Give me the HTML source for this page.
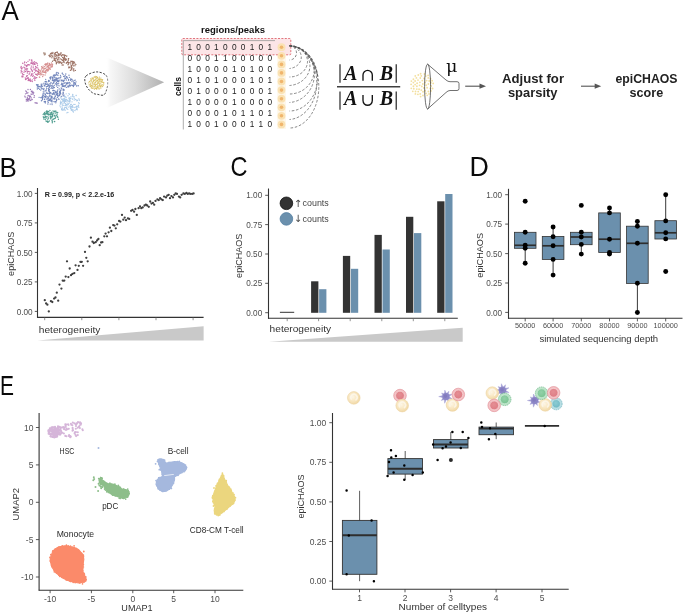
<!DOCTYPE html>
<html><head><meta charset="utf-8"><title>epiCHAOS figure</title>
<style>html,body{margin:0;padding:0;background:#fff}svg{display:block}text{white-space:pre}</style></head>
<body><svg width="685" height="615" viewBox="0 0 685 615">
<rect width="685" height="615" fill="#fff"/>
<text transform="translate(1.4,19.9) scale(0.945,1)" font-size="27.5" fill="#0a0a0a" font-family='"Liberation Sans", sans-serif'>A</text>
<text transform="translate(-0.4,177.4) scale(0.945,1)" font-size="27.5" fill="#0a0a0a" font-family='"Liberation Sans", sans-serif'>B</text>
<text transform="translate(230.5,176) scale(0.856,1)" font-size="27.5" fill="#0a0a0a" font-family='"Liberation Sans", sans-serif'>C</text>
<text transform="translate(469.5,176) scale(0.973,1)" font-size="27.5" fill="#0a0a0a" font-family='"Liberation Sans", sans-serif'>D</text>
<text transform="translate(0,394.5) scale(0.762,1)" font-size="27.5" fill="#0a0a0a" font-family='"Liberation Sans", sans-serif'>E</text>
<path d="M32.3 79.9h0M35.1 64.3h0M26.1 79.4h0M35.5 70h0M26.2 65.6h0M25.2 69.4h0M30 71.9h0M24.5 62.8h0M32 60.1h0M21.1 71h0M29.3 80.4h0M32.4 71h0M29.8 64.8h0M33.5 63.8h0M36.2 62.7h0M25.5 79.5h0M30.1 78.8h0M32.6 76.3h0M22.1 71.7h0M30 79.3h0M27.3 73h0M21.5 68.1h0M26.5 62.6h0M35.9 67.9h0M39 72.8h0M31.9 73.9h0M33.3 62.6h0M28.8 64.7h0M28 61.3h0M33.2 66.1h0M37 74.5h0M31.2 62.5h0M30.9 63.3h0M37.2 74h0M31.2 67.8h0M28.2 64.7h0M29.3 71.8h0M26.5 76.5h0M20.9 67.7h0M38.8 74.4h0M28.5 71.3h0M37 67.1h0M31.6 75h0M27.2 71.1h0M34.9 80.2h0M35.8 62.3h0M28.4 78h0M35.5 71h0M34.2 64.4h0M24.2 67.5h0M23.8 67.1h0M38.4 72.4h0M26.9 65.4h0M38.5 69.4h0M39 71.1h0M30.3 79.9h0M34.5 72.6h0M28.5 79.5h0M28.2 80.5h0M21.7 69.1h0M30.3 81.2h0M25.2 77.8h0M33.3 75.7h0M32.4 81.6h0M26.7 68.3h0M31.9 70.2h0M31.7 74.4h0M29.3 73.7h0M32.5 63.4h0M21.6 68.6h0M34.9 78h0M34.3 61.7h0M37.1 71.2h0M25.2 64.9h0M24 72.3h0M21.1 72.8h0M23.6 74.8h0M38.2 71.6h0M35.8 74.4h0M32 63.5h0M31.3 60h0M26.8 66.5h0M22.5 73.6h0M35.6 66.4h0M36.8 77.6h0M22.9 76.9h0M37.2 63.7h0M31.3 73.9h0M32 61.3h0M33 73.8h0M36.1 77.7h0M26.6 75.9h0M32.8 64.1h0M31.1 81h0M27.6 65h0M29.1 74.3h0M22.3 67.9h0M22.9 74.5h0M36.2 67.8h0M27.5 71.6h0M24.5 64.8h0M26.7 69.7h0M21.9 76.6h0M31.4 66.1h0M21.9 76.8h0M37.6 65.3h0M26.2 78.4h0M32.2 63.4h0M28.7 79.6h0M27.5 75.6h0M22.2 76h0M35.2 78.3h0M33.2 67.7h0M21.6 71.1h0M34.8 63.5h0M25.5 71.5h0M34.6 79.9h0M22.8 63.4h0M35.6 74.1h0M35.2 68.3h0M32.6 63.4h0M34.8 76.7h0M34.1 69.4h0M27.6 68.8h0M30.7 68.1h0M30.8 75.8h0M27.6 78.4h0M37.9 68.1h0M23 76.7h0M33.9 78.2h0M31.3 69.5h0M34.7 63.5h0M29.4 59.9h0M26.4 66.3h0M34.1 69.7h0M25.1 68.2h0M24.7 62h0M21 70.8h0M22.7 63.2h0M36.7 70.3h0M23.9 74.6h0M25.5 71.3h0M25.8 71.1h0M32.3 71.5h0M27.9 77.4h0M37 63.3h0M24.3 70.9h0M29.9 80.3h0M21.2 66.4h0M31.8 60.6h0" stroke="#c0579a" stroke-width="1.35" stroke-linecap="round" fill="none" opacity="0.85"/>
<path d="M40.8 73.1h0M52.4 66.2h0M51.6 67h0M50.3 69.2h0M49.2 68.8h0M39.9 70.2h0M46.9 63.9h0M52 64.6h0M45.1 75h0M39.8 74.6h0M48 70.7h0M43.5 74.8h0M49 67.9h0M51.5 63h0M44.9 72.2h0M49.1 64h0M45.8 65.4h0M47.4 70.8h0M39.7 77.2h0M44 69.5h0M48.5 66.8h0M46 63.7h0M46.3 69.2h0M45.1 71.2h0M43.2 66.1h0M44.7 66.5h0M42.7 76.5h0M40.1 73.6h0M50.1 67.7h0M47.7 71.1h0M45.2 71h0M51 66.5h0M46.6 67.1h0M45.3 68.2h0M48 65.5h0M46.1 71.9h0M44.1 68.5h0M49.3 64.4h0M52 66.9h0M45.5 71.9h0M37.2 75.4h0M51 65.3h0M46.9 70h0M48.2 67.8h0M41.8 68.6h0M40.6 71.1h0M42.4 71.4h0M43.5 72h0M41.7 69.8h0M50.8 64.4h0M45.2 64.2h0M49.5 63.4h0M43.1 67.7h0M45.8 73h0M49.9 65h0M48.8 65.7h0M43.3 71.8h0M39.3 72.6h0M49.8 68.7h0M49.5 64.9h0M39.4 77h0M42 74.2h0M44 72.3h0M41.2 72.9h0M46.2 70.3h0M40.6 71.3h0M38.6 70.1h0M45.5 72.6h0M46.3 64.7h0M38.3 73.5h0M49 65.9h0M52.4 64.9h0M48.5 69.9h0M47.9 65.2h0M40.9 72.6h0M42.6 67.4h0M45 71.5h0M38.7 72.7h0M38.1 71.8h0M41.6 66.7h0M42.3 68h0M43.3 74.9h0M40.9 74.9h0M43.1 70.4h0M47.8 63h0M44.8 64.3h0M48.1 68.1h0M47.4 64h0M38 73.8h0M47.7 69.3h0M48.2 67.7h0M52.6 64.2h0M42.6 72.1h0M47.5 66.5h0M52 66.6h0" stroke="#cf7b7b" stroke-width="1.35" stroke-linecap="round" fill="none" opacity="0.85"/>
<path d="M57.4 52.5h0M52.9 52.4h0M55.3 56.6h0M68.4 58.7h0M66.3 63.2h0M66.4 59.7h0M55.3 52.6h0M64.3 62.6h0M54.1 53.9h0M68.7 58.6h0M64.5 55.4h0M66.8 56h0M61.1 53.1h0M58.7 62.9h0M51.6 53.1h0M63.9 61.5h0M54.8 58.8h0M56.7 62.5h0M53.9 60.2h0M60.8 62.2h0M55.7 60.4h0M63.4 58.5h0M64.4 56.4h0M64.5 57.4h0M57 62.5h0M58.8 55.7h0M56.7 52.2h0M54.3 54h0M59.4 54.9h0M62.1 65h0M54.2 57.9h0M60.8 53.5h0M57.3 61.9h0M50 56.8h0M49 55.5h0M55.4 60.7h0M51.4 53h0M65.4 60.2h0M56.3 63.7h0M57.2 51.9h0M58.2 53.7h0M50.4 56.6h0M67.8 62.4h0M62.6 57.4h0M59.5 61.9h0M59.6 62.7h0M61.2 55.3h0M60.7 58.9h0M51.9 57.7h0M66.7 56.3h0M59 61.5h0M57.9 55.2h0M56.3 58.2h0M62.5 60.4h0M55.2 53h0M50.5 53.6h0M53 56.1h0M52.5 56.2h0M58.5 61.6h0M59.1 53.9h0M65.5 55.6h0M65.9 58.3h0M57.5 60.1h0M60.4 54.6h0M52.6 53.6h0M51.7 55.7h0M55.8 58.6h0M54.6 60.4h0M54.5 55.8h0M64.4 59.1h0M54.3 60.1h0M55.5 52.6h0M57.4 59.3h0M63.3 59.6h0M64.3 55.4h0M51.5 53.9h0M66.9 62.5h0M50.1 56.5h0M57.9 59h0M63.1 62.1h0M65.6 59.5h0M63.2 65h0M56.4 63.4h0M68.4 59.9h0M68.2 60.2h0M55.5 60.7h0M58.6 57.7h0M57 57h0M63.8 60.9h0M61.3 63.2h0M54.6 53.6h0M55.3 54.7h0M64.7 58.7h0M54.9 59h0M62 62.8h0M54.4 58.8h0M50.1 54.3h0M61.5 56.1h0M55.5 58.8h0M62.1 55h0M64.7 54.9h0M55.2 53.4h0M59 59.8h0M63.7 57.9h0M49.5 56.1h0M57.3 52.4h0M58.8 54.6h0M66.4 62.7h0M51.6 53.7h0M63.2 54.7h0M56.4 55.5h0M62.3 60.2h0M62.9 54.6h0M53.9 57.9h0M61.7 59.6h0M61.7 63.4h0M64.9 59.8h0M52.5 61.2h0M57.8 55.6h0M61 52.7h0M59 54.6h0M63.2 59.9h0M56.2 54.7h0M67.8 61.4h0M68.5 62.6h0M50.1 55.7h0M59.3 57.8h0M55.9 61.8h0M60.6 62h0M61.6 55.6h0" stroke="#8c5a4a" stroke-width="1.35" stroke-linecap="round" fill="none" opacity="0.85"/>
<path d="M72.7 62.2h0M73.9 71.1h0M70.9 61.2h0M72.4 67.9h0M68.7 67.8h0M71.4 66.4h0M71.3 68.2h0M75.9 64.6h0M73.4 69.9h0M71.8 69.8h0M71.5 68.9h0M71.4 67.6h0M74.9 65.6h0M70.8 64.8h0M68 64.7h0M71.7 61.4h0M75.4 70.4h0M73.5 61.7h0M73.3 65.9h0M70 67.1h0M69.2 62.7h0M70.5 70.2h0M68.2 63.8h0M72.7 64.9h0M70.6 63.1h0M72.8 63.3h0M71.4 65.9h0M74.5 62.2h0M73.3 63.4h0M75 63.8h0M73.8 70h0M72.1 61.2h0M68.5 64h0M68.9 66.9h0M72.3 63.8h0M70.4 70.4h0M74.9 65.8h0M69.6 67.5h0M73 64.9h0M74.8 63.8h0M70.9 61.9h0M73.8 68.6h0M73.2 62.8h0M71.4 65.3h0M73.3 61.8h0" stroke="#8c5a4a" stroke-width="1.35" stroke-linecap="round" fill="none" opacity="0.85"/>
<path d="M45.4 53.9h0M45.1 54.5h0M44.9 52.9h0M44.3 54.7h0M44.4 53.8h0M44.7 54.7h0M43.6 53h0" stroke="#a08070" stroke-width="1.35" stroke-linecap="round" fill="none" opacity="0.85"/>
<path d="M44 83.2h0M49.4 89.6h0M48.1 97.4h0M67.9 86.7h0M48.6 90.1h0M66.1 77.9h0M60.4 92.4h0M43.9 83.9h0M57.3 97.3h0M39 86.6h0M37.6 85.8h0M48.7 85.2h0M65.1 86.8h0M41.4 100.7h0M61.9 88.9h0M73.4 81.8h0M55.2 75.3h0M53.2 93.5h0M41.2 87h0M38.3 88.4h0M46.2 90h0M47.7 101.1h0M52 103.1h0M66.8 76.7h0M59.2 88.8h0M51 83.1h0M56.9 72.4h0M63.1 92.9h0M58.2 72.9h0M53.4 90.5h0M68.1 83.6h0M69.5 77.3h0M65.7 85.3h0M52.8 83.5h0M53.7 82.6h0M50.3 92.5h0M59.1 85.8h0M49.4 95.1h0M65.6 78.5h0M50 93.8h0M60.4 91.3h0M67.8 86.6h0M68.5 80.3h0M49.4 87.3h0M62.9 94.6h0M49.9 92.2h0M45.7 84.6h0M75 84.5h0M42.1 84.1h0M48.5 81.6h0M51.1 98.4h0M53.6 80.5h0M64.5 78.1h0M64.8 85.6h0M63.1 93.4h0M52.3 96.8h0M55.2 79.7h0M64.3 76.6h0M71.9 81.6h0M49.5 81h0M52.3 85.1h0M43.9 88.4h0M58.5 98.9h0M56.7 77.9h0M53.1 79.1h0M50 85.6h0M76.1 81.8h0M63.5 86.4h0M45.5 97.1h0M56.1 94.6h0M37.3 89h0M48 84.2h0M54.3 97.3h0M56.2 93h0M48.6 80.4h0M48.5 98h0M50.3 84.1h0M50 77.9h0M50.9 98.5h0M51.9 93.8h0M55.4 95.9h0M54 81.9h0M54.6 79.7h0M74.1 80.5h0M56.7 99.5h0M56.2 83.7h0M52.8 86.5h0M63.1 80.6h0M72.4 80.1h0M49.3 96.6h0M63.2 90.2h0M51 82.4h0M54.6 80.8h0M50.8 92.7h0M55.2 96.7h0M66.1 76.9h0M69 75.2h0M46.4 86.7h0M50 93.5h0M45.4 94.5h0M59.8 80.8h0M57.8 80.9h0M69.2 85.6h0M48.7 89.2h0M44.6 85.3h0M57.8 95.4h0M45.6 81.8h0M37.1 85.4h0M66 76.8h0M61.2 88h0M54.3 87.4h0M52.5 77.1h0M45.1 97.2h0M57.3 81.4h0M57.4 93.4h0M54.2 85.4h0M44.7 93.8h0M76.7 86h0M51.8 100.9h0M71.6 79.6h0M56.5 74.7h0M51.2 100.1h0M61.8 83.2h0M45.9 91h0M50 77.4h0M60 94.8h0M45.2 81.5h0M74.3 82.7h0M47.7 83.9h0M46.8 99.1h0M58.4 78.1h0M46.1 81.5h0M67.9 82.3h0M50.5 99.5h0M75.6 84.6h0M60.9 90.2h0M41 97.7h0M46.1 97h0M53.1 83.4h0M69.1 86h0M51.6 97.2h0M53.8 90.3h0M57.5 95.5h0M56.8 80.4h0M63.2 92.2h0M68.7 86.9h0M55.9 98.8h0M56.6 100.5h0M46.3 81.6h0M46.1 96.3h0M56 101.7h0M69.7 82.6h0M42.8 96.9h0M46.7 99.1h0M56.5 84.3h0M56.6 79.3h0M37.3 87.1h0M54.1 98.5h0M57.6 97.2h0M48.5 90.9h0M52.6 78.3h0M57.9 93.9h0M73.9 85.4h0M59 99.2h0M41.1 87.7h0M56.9 78.4h0M58.7 83.1h0M49.2 100.4h0M63.5 81.4h0M54 76.2h0M43 97.4h0M43 95.1h0M55.2 75.6h0M67.6 83.5h0M57.4 91.2h0M50.7 96.1h0M47.7 93.5h0M65.1 75.4h0M48.7 88.5h0M56.4 73h0M60.1 90.1h0M49 88h0M69.1 86h0M62.5 84.1h0M56.3 83.8h0M49.1 90.8h0M51 88.3h0M67.8 82.9h0M58.5 96.1h0M45.8 90.5h0M75.3 83.2h0M57.8 83.4h0M75.5 83.2h0M42.4 99.7h0M56.5 84.1h0M42.4 98.2h0M44.1 91.8h0M56 91.3h0M68 86h0M57.8 79h0M55.2 83.8h0M53.3 90.8h0M64.2 80.6h0M75.3 80.1h0M57.9 75.4h0M38.3 84.8h0M65.8 74h0M61.9 80h0M49.5 99.2h0M39.1 97.3h0M49.9 100.4h0M47.9 85.6h0M68.6 79.4h0M45.4 102.9h0M55.4 77.9h0M62.6 85.3h0M58.8 77.8h0M58.4 81.4h0M62.2 73.2h0M49.8 95.3h0M46.9 84.2h0M42 97h0M54.6 75.9h0M66.5 84h0M48.2 99.8h0M67.6 78h0M62.8 83.8h0M46.2 93.1h0M43.4 89.3h0M53.6 80.7h0M72.7 85.5h0M51.2 101.5h0M60 78.9h0M46.8 88.5h0M42.6 86.3h0M52.8 90.5h0M63.7 76.4h0M44.5 99.5h0M71.8 85.1h0M70.1 83.6h0M42.5 95.9h0M69.3 82.5h0M61.2 84.7h0M66.3 80h0M62.3 86.2h0M44.8 86h0M52.4 80.6h0M60.7 93.7h0M52 100.2h0M54 93.5h0M46 95.6h0M62.3 86.6h0M58.7 80.6h0M71.7 79.2h0M57.8 89.9h0M54.3 77.6h0M61.3 80.8h0M52.9 77.6h0M62.4 80.8h0M43.2 91.8h0M54.8 90.8h0M54.5 98.6h0M56.3 74.9h0M51.4 86h0M65.1 82.7h0M37.6 85h0M52.6 88.3h0M78.3 85.7h0M57.7 87.4h0M55.8 91.9h0M50.2 104.1h0M49.8 86.5h0M57 94.2h0M60.9 76.9h0M55.1 75.5h0M70.5 80.3h0M49.2 91.2h0M47.8 96.6h0M64.1 95.1h0M63.4 89.2h0M44.7 96.4h0M47.4 86.4h0M55.2 81h0M54.6 101.8h0M59.5 94.3h0M55.3 92.1h0M51.8 87.7h0M70.9 85.3h0M44.3 85.4h0M63.9 83.1h0M63.4 93.1h0M55.1 101.4h0M64.2 90h0M57 95h0M73.6 84h0M60.5 75.3h0M48.8 100.6h0M63.2 85.1h0M57.9 85h0M45.7 79.3h0M54.4 94.6h0M50 100.6h0M69.6 84.9h0M40.7 90.1h0M41.9 88.9h0M60.1 92.7h0M39.9 86.5h0M62.3 73.2h0M38.8 86.3h0M49.7 83.9h0M60.2 77.4h0M57.1 80.5h0M48.2 102.4h0M43 94.5h0M44.4 101.6h0M38.4 86.7h0M37.4 84.7h0M65.7 85.2h0M65 86.3h0M41.7 85.7h0M54.5 99.1h0M59.5 91.7h0M50.4 79h0M42.5 99.2h0M63.7 89.8h0M57.5 81.1h0M63.1 74.5h0M45.7 83.9h0M58.5 73.2h0M39.6 89.2h0M43.2 93.4h0M45.1 102h0M49.1 90.4h0M61.3 96.5h0M59.3 93.1h0M44.8 98.9h0M75.1 83.9h0M60.8 90.6h0M45.7 83.5h0M63.1 95.9h0M76.8 85.7h0M53.7 87.9h0M53.4 75.7h0M51.4 96.2h0M52.1 97.5h0M46.8 92.6h0M52.9 78.6h0M70.5 80.1h0M56.5 85.9h0M52.1 104.6h0M45.4 97.2h0M56.3 78.9h0M52.8 94.5h0M66.6 87.3h0M46.8 82h0M57.8 74.9h0M45 102.1h0M59.4 95.5h0M36.5 84.6h0M63.8 86.2h0M53.1 101.6h0M52 93.9h0M51.2 97.5h0M45.5 101.5h0M74.2 82.7h0M43.8 95.8h0M41.2 85.7h0M51 76.7h0M51 85.8h0M64.2 80h0M70.3 86h0M53.5 92.7h0M44 90h0M41.2 84.2h0M55 92.7h0M42.2 88.5h0M47.9 104h0M56.1 74.2h0M53.3 86.6h0M55.7 79.7h0M53 98.8h0M44.2 101.7h0M56.5 82.4h0M55.8 102.8h0M47.2 93.2h0M52.4 80h0M47.9 98.5h0M48.8 86h0M52.2 78h0M54.1 74.6h0M50.7 77.7h0M66.6 82.9h0M40.8 97.6h0M64 83.2h0M70.6 78.9h0M61.6 84.2h0M42.7 98.8h0M49 93.2h0M73.4 86.5h0M57.2 92.3h0" stroke="#5b72b0" stroke-width="1.35" stroke-linecap="round" fill="none" opacity="0.85"/>
<path d="M27.5 100.2h0M27.6 100.9h0M32.2 99.5h0M34.3 95.7h0M27.7 98.7h0M34.1 97.4h0M28.6 99.4h0M33.2 94.1h0M29.2 95.9h0M29.3 95.8h0M32.9 91.6h0M32.8 92.8h0M29.4 98.3h0M30.8 100.6h0M25.8 90.9h0M32.3 92.6h0M30.6 96.2h0M31.7 99.6h0M31.9 94.2h0M26.3 101h0M28.1 95.5h0M31.1 98.1h0M31.1 97.3h0M29.1 99.1h0M27.9 92.7h0M31.4 91.5h0M33.8 92.8h0M30.4 89.5h0M27.9 98.3h0M27.5 99.6h0M31 94.1h0M25.5 93.8h0M28.8 100.8h0M29.6 97.1h0M27.4 99.9h0M29.6 96.9h0M26.3 99.2h0M25.9 91.1h0M30.1 100h0M26.8 93.2h0M25.2 97h0M31.9 90.9h0M29.4 96.2h0M24.8 96.1h0M26.5 91.8h0M27.3 97.2h0M28 89.5h0M33 92.4h0M28.1 100.9h0M28 98.8h0M37 102.9h0M36.5 103h0M35.1 102.7h0M35.5 102.9h0M37.1 103.2h0" stroke="#8a5fa8" stroke-width="1.35" stroke-linecap="round" fill="none" opacity="0.85"/>
<path d="M65.4 105.5h0M62.5 104.8h0M69 97.9h0M61.1 103.8h0M59.9 105.8h0M68.2 104.5h0M63.9 100.3h0M72.5 96h0M66.5 104.5h0M67.8 109.3h0M60.3 104.1h0M65.7 99.4h0M74.2 96.8h0M67.9 103.2h0M72.7 94.5h0M62 99.5h0M72.9 96.6h0M76.1 109.4h0M77.4 100.5h0M73.4 112h0M77.1 109.3h0M75 104.4h0M69.4 94.2h0M60.7 97.8h0M68 95.7h0M62.3 105.9h0M64.5 98.7h0M63.7 109.8h0M64.1 101.4h0M71.4 104.3h0M71.7 110.3h0M65.6 100.6h0M77.9 106.2h0M63.8 105.4h0M79.3 100.2h0M70.1 98.6h0M72.5 105.4h0M78.4 105.2h0M65.2 100h0M78.8 98.8h0M62 98.8h0M78.6 105.9h0M69.7 100.1h0M73.9 107.2h0M79.1 103.5h0M66.1 97.4h0M76.5 106.7h0M64 109.3h0M69.3 97.6h0M65.2 103.5h0M61.2 103.8h0M60.5 102.4h0M69 98.5h0M76.7 108.2h0M66.2 93.8h0M67.1 105h0M70.1 98.9h0M69.8 105.8h0M66.6 99.5h0M66.8 101.8h0M66.9 106.8h0M68.9 101.2h0M76.6 106.2h0M70.7 98.5h0M74.3 98.3h0M71.2 110h0M77.2 109.7h0M72.4 107.6h0M62.5 108h0M60.5 103.2h0M64.6 100.7h0M71.8 109.5h0M70.8 104.3h0M76.2 95.5h0M76 95.3h0M73.8 104.3h0M64.7 96.9h0M62.8 99.7h0M65.8 104.1h0M64.5 102h0M71.2 106.3h0M72.7 111.1h0M71.5 109.9h0M68.9 93.6h0M65.4 101.4h0M71.3 107.9h0M67.8 100.8h0M70.9 96.9h0M72.6 99.2h0M66 97.6h0M67.9 112.4h0M70.2 100.7h0M78.8 107.3h0M62 110h0M62.8 101h0M70.6 104.8h0M70.6 107.3h0M66 107.6h0M66.1 100.6h0M71.7 106.3h0M73.8 96.9h0M78.7 102.6h0M66.9 108.7h0M77.3 108.1h0M64.9 107.4h0M64 96.3h0M65 107.4h0M70.5 108.6h0M72.9 109.9h0M74.2 100.1h0M64.1 99.3h0M64.4 102.5h0M63.8 98.7h0M65.2 96.3h0M76.8 100h0M60.6 104.1h0M61.7 99.4h0M66 97.5h0M65.4 110.1h0M70.1 106.7h0M69.1 103.3h0M65.4 103.6h0M67.6 100.3h0M72.9 95h0M63 103.1h0M78.3 106.1h0M69.4 99.8h0M75.6 107.1h0M66.7 108.5h0M72.3 98.8h0M64.3 108.5h0M63 103.6h0M75.1 110.6h0M74.8 110.3h0M62.9 110.1h0M61.6 108.7h0M64.4 109.7h0M68.7 107.1h0M60.9 97.9h0M61.6 102.2h0M60.5 101.1h0M69.8 101.3h0M75.4 99.5h0M72.5 106.2h0M76.8 100.7h0M60.8 107h0M62.2 109.6h0M62.2 108.1h0M66.9 112.8h0M63.9 109.9h0M71 96.8h0M69.5 98.9h0M62.8 101.2h0M69.8 102h0M74.2 107.5h0M72 101.8h0M66.4 105.1h0M79.1 99.1h0M73.1 110h0M61.6 109.4h0" stroke="#a6c8e8" stroke-width="1.35" stroke-linecap="round" fill="none" opacity="0.95"/>
<path d="M45.2 117h0M57.2 112.9h0M52 114.2h0M48.5 114.9h0M47.2 114.3h0M45.6 114h0M46.1 121.1h0M53 110.9h0M46.7 110.9h0M53.7 119h0M57.6 116.2h0M48 113.8h0M46.3 118h0M49.2 114.2h0M44.2 117.5h0M54.8 121.6h0M47.3 121.8h0M55.2 118.2h0M46.1 113.2h0M51.6 112.4h0M55.5 117.2h0M58.4 119.2h0M44.6 114.5h0M52.4 121.7h0M49 112h0M47.5 112.8h0M45.4 114.1h0M47 116.3h0M45.5 117.1h0M54 111.5h0M51.6 112.2h0M48.9 113.8h0M56.3 112.6h0M51.8 117.3h0M48.3 122h0M48.3 113.9h0M54.3 116h0M54.8 111.5h0M45.3 119.4h0M49.3 121h0M46.7 112.7h0M57.1 114.3h0M44.7 112.5h0M55.5 113.1h0M52 120.7h0M52.9 119.6h0M57.3 116.9h0M46.2 111.3h0M48.3 111.3h0M55.6 117h0M52.7 115.4h0M45.2 115.8h0M57.9 117.3h0M50.4 117.6h0M51.9 117.9h0M46.2 111.5h0M52.5 116.2h0M57.7 112.4h0M51.1 113.4h0M50.4 118.7h0M48.2 118.4h0M43.2 116.8h0M52.3 122.7h0M46.8 113.5h0M50.2 116.3h0M56.3 115.5h0M43.7 118.9h0M46.6 121.3h0M46.4 113.5h0M45.2 113.6h0M52.8 113.1h0M43.7 117.4h0M55 111h0M49.9 110.4h0M43.2 114.5h0M47.6 121.2h0M54.9 115.1h0M51.1 112.8h0M45.1 119.2h0M50.4 116.4h0M47.7 111.7h0M56 111.2h0M47.8 119.6h0M47.8 122.2h0M45.8 116.6h0M51.7 116.2h0M51.9 120.1h0M43.7 116.8h0M50.1 114.9h0M51.7 117.9h0M54.4 121.5h0M53.8 113.1h0M47.3 111.1h0M54.1 118.7h0M52.9 114.6h0M50.5 113h0M48.2 117.2h0M45.9 120.9h0M50.8 114.5h0M43.9 113.3h0" stroke="#2e8b7a" stroke-width="1.35" stroke-linecap="round" fill="none" opacity="0.85"/>
<path d="M92.8 84h0M92.2 85.6h0M94.1 86.5h0M97.5 80.5h0M90.4 80.8h0M95.4 86.8h0M98.6 83h0M97.9 85.7h0M98.1 88.7h0M90.7 78.9h0M94.7 80.6h0M99.2 81.8h0M95.7 77.7h0M103.7 82.4h0M102.1 84.6h0M90.1 86.2h0M95.3 82.5h0M96.3 84.3h0M101.2 81.5h0M99.1 86.7h0M90.4 84.1h0M95.6 88.3h0M101.4 79.7h0M99.5 83.9h0M100.9 88h0M100.1 80.9h0M102.6 79.6h0M94.1 77.2h0M98.1 79.1h0M95.6 85.3h0M97 86.6h0M100.7 85.1h0M95.2 79.3h0M99.4 77.1h0M93.3 78.3h0M94.2 83.1h0M93.6 79.9h0M93.5 81.2h0M88.8 82.8h0M91.9 81.3h0M92.1 79h0M96.6 76.7h0M97.5 84h0M92.7 82.7h0M91 82.9h0M100.9 78.1h0M96.8 78.6h0M102.6 86.6h0M102.2 82.4h0M96.1 81.4h0M96.5 89h0M99 80h0M97.6 77.5h0M94 84.9h0M100.1 79.5h0M100.7 83.1h0M92.7 88.3h0M97.3 82.8h0M89.2 84.8h0M94.4 89h0M92.4 86.8h0M103.7 83.9h0M99.5 88.8h0M100.6 86.5h0M102.4 80.9h0M89.4 81.6h0M97.9 87.4h0M96.2 80.1h0M95.2 76.5h0M91.2 86.8h0M99.2 78.6h0M96.7 87.8h0M99.4 85.2h0M95.1 84.2h0M98 81.6h0M93.9 87.8h0M92.2 77.8h0M103.2 85.3h0M91.6 80.1h0M91.1 85.2h0M101.6 85.8h0M91.4 88h0" stroke="#d6b94e" stroke-width="1.35" stroke-linecap="round" fill="none" opacity="0.9"/>
<path d="M86.1 75.9C88 74.1,93.1 72,96.4 71.9C99.7 71.8,104 73.3,105.9 75.1C107.8 76.9,107.7 80,107.8 82.5C107.9 85,107.3 87.7,106.6 89.8C105.9 91.9,105.2 94.2,103.7 95C102.2 95.8,99.5 94.7,97.8 94.4C96.1 94.1,95.1 94.3,93.5 93.4C91.9 92.5,89.7 90.8,88.3 89C86.9 87.2,85.5 84.7,85.1 82.5C84.7 80.3,84.2 77.7,86.1 75.9Z" fill="none" stroke="#333" stroke-width="0.9" stroke-dasharray="2.2 1.4"/>
<defs><linearGradient id="tg" x1="0" x2="1" y1="0" y2="0"><stop offset="0" stop-color="#fff" stop-opacity="0"/><stop offset="0.08" stop-color="#f7f7f7"/><stop offset="0.5" stop-color="#dcdcdc"/><stop offset="1" stop-color="#b0b0b0"/></linearGradient></defs>
<path d="M105.8 57 L164.2 82.3 L105.8 108.6Z" fill="url(#tg)"/>
<text x="233" y="32.5" font-size="9.5" text-anchor="middle" font-weight="bold" fill="#111" font-family='"Liberation Sans", sans-serif' textLength="64" lengthAdjust="spacingAndGlyphs">regions/peaks</text>
<text transform="translate(181,86.5) rotate(-90)" font-size="9" text-anchor="middle" font-weight="bold" fill="#111" textLength="19" lengthAdjust="spacingAndGlyphs" font-family='"Liberation Sans", sans-serif'>cells</text>
<rect x="277.3" y="42" width="8.6" height="87" fill="#fef7e9"/>
<rect x="181.8" y="38.5" width="109" height="16.3" rx="1" fill="#fbe1e3" fill-opacity="0.85" stroke="#d9545e" stroke-width="0.8" stroke-dasharray="2 1.4"/>
<path d="M183.3 129.5V40.6H275" fill="none" stroke="#999" stroke-width="0.8"/>
<text x="189.7" y="49.9" font-size="8.3" text-anchor="middle" font-weight="normal" fill="#222" font-family='"Liberation Sans", sans-serif' >1</text>
<text x="198.6" y="49.9" font-size="8.3" text-anchor="middle" font-weight="normal" fill="#222" font-family='"Liberation Sans", sans-serif' >0</text>
<text x="207.5" y="49.9" font-size="8.3" text-anchor="middle" font-weight="normal" fill="#222" font-family='"Liberation Sans", sans-serif' >0</text>
<text x="216.4" y="49.9" font-size="8.3" text-anchor="middle" font-weight="normal" fill="#222" font-family='"Liberation Sans", sans-serif' >1</text>
<text x="225.3" y="49.9" font-size="8.3" text-anchor="middle" font-weight="normal" fill="#222" font-family='"Liberation Sans", sans-serif' >0</text>
<text x="234.2" y="49.9" font-size="8.3" text-anchor="middle" font-weight="normal" fill="#222" font-family='"Liberation Sans", sans-serif' >0</text>
<text x="243.1" y="49.9" font-size="8.3" text-anchor="middle" font-weight="normal" fill="#222" font-family='"Liberation Sans", sans-serif' >0</text>
<text x="252" y="49.9" font-size="8.3" text-anchor="middle" font-weight="normal" fill="#222" font-family='"Liberation Sans", sans-serif' >1</text>
<text x="260.9" y="49.9" font-size="8.3" text-anchor="middle" font-weight="normal" fill="#222" font-family='"Liberation Sans", sans-serif' >0</text>
<text x="269.8" y="49.9" font-size="8.3" text-anchor="middle" font-weight="normal" fill="#222" font-family='"Liberation Sans", sans-serif' >1</text>
<text x="189.7" y="61" font-size="8.3" text-anchor="middle" font-weight="normal" fill="#222" font-family='"Liberation Sans", sans-serif' >0</text>
<text x="198.6" y="61" font-size="8.3" text-anchor="middle" font-weight="normal" fill="#222" font-family='"Liberation Sans", sans-serif' >0</text>
<text x="207.5" y="61" font-size="8.3" text-anchor="middle" font-weight="normal" fill="#222" font-family='"Liberation Sans", sans-serif' >0</text>
<text x="216.4" y="61" font-size="8.3" text-anchor="middle" font-weight="normal" fill="#222" font-family='"Liberation Sans", sans-serif' >1</text>
<text x="225.3" y="61" font-size="8.3" text-anchor="middle" font-weight="normal" fill="#222" font-family='"Liberation Sans", sans-serif' >1</text>
<text x="234.2" y="61" font-size="8.3" text-anchor="middle" font-weight="normal" fill="#222" font-family='"Liberation Sans", sans-serif' >0</text>
<text x="243.1" y="61" font-size="8.3" text-anchor="middle" font-weight="normal" fill="#222" font-family='"Liberation Sans", sans-serif' >0</text>
<text x="252" y="61" font-size="8.3" text-anchor="middle" font-weight="normal" fill="#222" font-family='"Liberation Sans", sans-serif' >0</text>
<text x="260.9" y="61" font-size="8.3" text-anchor="middle" font-weight="normal" fill="#222" font-family='"Liberation Sans", sans-serif' >0</text>
<text x="269.8" y="61" font-size="8.3" text-anchor="middle" font-weight="normal" fill="#222" font-family='"Liberation Sans", sans-serif' >0</text>
<text x="189.7" y="72" font-size="8.3" text-anchor="middle" font-weight="normal" fill="#222" font-family='"Liberation Sans", sans-serif' >1</text>
<text x="198.6" y="72" font-size="8.3" text-anchor="middle" font-weight="normal" fill="#222" font-family='"Liberation Sans", sans-serif' >0</text>
<text x="207.5" y="72" font-size="8.3" text-anchor="middle" font-weight="normal" fill="#222" font-family='"Liberation Sans", sans-serif' >0</text>
<text x="216.4" y="72" font-size="8.3" text-anchor="middle" font-weight="normal" fill="#222" font-family='"Liberation Sans", sans-serif' >0</text>
<text x="225.3" y="72" font-size="8.3" text-anchor="middle" font-weight="normal" fill="#222" font-family='"Liberation Sans", sans-serif' >0</text>
<text x="234.2" y="72" font-size="8.3" text-anchor="middle" font-weight="normal" fill="#222" font-family='"Liberation Sans", sans-serif' >1</text>
<text x="243.1" y="72" font-size="8.3" text-anchor="middle" font-weight="normal" fill="#222" font-family='"Liberation Sans", sans-serif' >0</text>
<text x="252" y="72" font-size="8.3" text-anchor="middle" font-weight="normal" fill="#222" font-family='"Liberation Sans", sans-serif' >1</text>
<text x="260.9" y="72" font-size="8.3" text-anchor="middle" font-weight="normal" fill="#222" font-family='"Liberation Sans", sans-serif' >0</text>
<text x="269.8" y="72" font-size="8.3" text-anchor="middle" font-weight="normal" fill="#222" font-family='"Liberation Sans", sans-serif' >0</text>
<text x="189.7" y="83.1" font-size="8.3" text-anchor="middle" font-weight="normal" fill="#222" font-family='"Liberation Sans", sans-serif' >0</text>
<text x="198.6" y="83.1" font-size="8.3" text-anchor="middle" font-weight="normal" fill="#222" font-family='"Liberation Sans", sans-serif' >1</text>
<text x="207.5" y="83.1" font-size="8.3" text-anchor="middle" font-weight="normal" fill="#222" font-family='"Liberation Sans", sans-serif' >0</text>
<text x="216.4" y="83.1" font-size="8.3" text-anchor="middle" font-weight="normal" fill="#222" font-family='"Liberation Sans", sans-serif' >1</text>
<text x="225.3" y="83.1" font-size="8.3" text-anchor="middle" font-weight="normal" fill="#222" font-family='"Liberation Sans", sans-serif' >0</text>
<text x="234.2" y="83.1" font-size="8.3" text-anchor="middle" font-weight="normal" fill="#222" font-family='"Liberation Sans", sans-serif' >0</text>
<text x="243.1" y="83.1" font-size="8.3" text-anchor="middle" font-weight="normal" fill="#222" font-family='"Liberation Sans", sans-serif' >0</text>
<text x="252" y="83.1" font-size="8.3" text-anchor="middle" font-weight="normal" fill="#222" font-family='"Liberation Sans", sans-serif' >1</text>
<text x="260.9" y="83.1" font-size="8.3" text-anchor="middle" font-weight="normal" fill="#222" font-family='"Liberation Sans", sans-serif' >0</text>
<text x="269.8" y="83.1" font-size="8.3" text-anchor="middle" font-weight="normal" fill="#222" font-family='"Liberation Sans", sans-serif' >1</text>
<text x="189.7" y="94.2" font-size="8.3" text-anchor="middle" font-weight="normal" fill="#222" font-family='"Liberation Sans", sans-serif' >0</text>
<text x="198.6" y="94.2" font-size="8.3" text-anchor="middle" font-weight="normal" fill="#222" font-family='"Liberation Sans", sans-serif' >1</text>
<text x="207.5" y="94.2" font-size="8.3" text-anchor="middle" font-weight="normal" fill="#222" font-family='"Liberation Sans", sans-serif' >0</text>
<text x="216.4" y="94.2" font-size="8.3" text-anchor="middle" font-weight="normal" fill="#222" font-family='"Liberation Sans", sans-serif' >0</text>
<text x="225.3" y="94.2" font-size="8.3" text-anchor="middle" font-weight="normal" fill="#222" font-family='"Liberation Sans", sans-serif' >0</text>
<text x="234.2" y="94.2" font-size="8.3" text-anchor="middle" font-weight="normal" fill="#222" font-family='"Liberation Sans", sans-serif' >1</text>
<text x="243.1" y="94.2" font-size="8.3" text-anchor="middle" font-weight="normal" fill="#222" font-family='"Liberation Sans", sans-serif' >0</text>
<text x="252" y="94.2" font-size="8.3" text-anchor="middle" font-weight="normal" fill="#222" font-family='"Liberation Sans", sans-serif' >0</text>
<text x="260.9" y="94.2" font-size="8.3" text-anchor="middle" font-weight="normal" fill="#222" font-family='"Liberation Sans", sans-serif' >0</text>
<text x="269.8" y="94.2" font-size="8.3" text-anchor="middle" font-weight="normal" fill="#222" font-family='"Liberation Sans", sans-serif' >1</text>
<text x="189.7" y="105.2" font-size="8.3" text-anchor="middle" font-weight="normal" fill="#222" font-family='"Liberation Sans", sans-serif' >1</text>
<text x="198.6" y="105.2" font-size="8.3" text-anchor="middle" font-weight="normal" fill="#222" font-family='"Liberation Sans", sans-serif' >0</text>
<text x="207.5" y="105.2" font-size="8.3" text-anchor="middle" font-weight="normal" fill="#222" font-family='"Liberation Sans", sans-serif' >0</text>
<text x="216.4" y="105.2" font-size="8.3" text-anchor="middle" font-weight="normal" fill="#222" font-family='"Liberation Sans", sans-serif' >0</text>
<text x="225.3" y="105.2" font-size="8.3" text-anchor="middle" font-weight="normal" fill="#222" font-family='"Liberation Sans", sans-serif' >0</text>
<text x="234.2" y="105.2" font-size="8.3" text-anchor="middle" font-weight="normal" fill="#222" font-family='"Liberation Sans", sans-serif' >1</text>
<text x="243.1" y="105.2" font-size="8.3" text-anchor="middle" font-weight="normal" fill="#222" font-family='"Liberation Sans", sans-serif' >0</text>
<text x="252" y="105.2" font-size="8.3" text-anchor="middle" font-weight="normal" fill="#222" font-family='"Liberation Sans", sans-serif' >0</text>
<text x="260.9" y="105.2" font-size="8.3" text-anchor="middle" font-weight="normal" fill="#222" font-family='"Liberation Sans", sans-serif' >0</text>
<text x="269.8" y="105.2" font-size="8.3" text-anchor="middle" font-weight="normal" fill="#222" font-family='"Liberation Sans", sans-serif' >0</text>
<text x="189.7" y="116.3" font-size="8.3" text-anchor="middle" font-weight="normal" fill="#222" font-family='"Liberation Sans", sans-serif' >0</text>
<text x="198.6" y="116.3" font-size="8.3" text-anchor="middle" font-weight="normal" fill="#222" font-family='"Liberation Sans", sans-serif' >0</text>
<text x="207.5" y="116.3" font-size="8.3" text-anchor="middle" font-weight="normal" fill="#222" font-family='"Liberation Sans", sans-serif' >0</text>
<text x="216.4" y="116.3" font-size="8.3" text-anchor="middle" font-weight="normal" fill="#222" font-family='"Liberation Sans", sans-serif' >0</text>
<text x="225.3" y="116.3" font-size="8.3" text-anchor="middle" font-weight="normal" fill="#222" font-family='"Liberation Sans", sans-serif' >1</text>
<text x="234.2" y="116.3" font-size="8.3" text-anchor="middle" font-weight="normal" fill="#222" font-family='"Liberation Sans", sans-serif' >0</text>
<text x="243.1" y="116.3" font-size="8.3" text-anchor="middle" font-weight="normal" fill="#222" font-family='"Liberation Sans", sans-serif' >1</text>
<text x="252" y="116.3" font-size="8.3" text-anchor="middle" font-weight="normal" fill="#222" font-family='"Liberation Sans", sans-serif' >1</text>
<text x="260.9" y="116.3" font-size="8.3" text-anchor="middle" font-weight="normal" fill="#222" font-family='"Liberation Sans", sans-serif' >0</text>
<text x="269.8" y="116.3" font-size="8.3" text-anchor="middle" font-weight="normal" fill="#222" font-family='"Liberation Sans", sans-serif' >1</text>
<text x="189.7" y="127.4" font-size="8.3" text-anchor="middle" font-weight="normal" fill="#222" font-family='"Liberation Sans", sans-serif' >1</text>
<text x="198.6" y="127.4" font-size="8.3" text-anchor="middle" font-weight="normal" fill="#222" font-family='"Liberation Sans", sans-serif' >0</text>
<text x="207.5" y="127.4" font-size="8.3" text-anchor="middle" font-weight="normal" fill="#222" font-family='"Liberation Sans", sans-serif' >0</text>
<text x="216.4" y="127.4" font-size="8.3" text-anchor="middle" font-weight="normal" fill="#222" font-family='"Liberation Sans", sans-serif' >1</text>
<text x="225.3" y="127.4" font-size="8.3" text-anchor="middle" font-weight="normal" fill="#222" font-family='"Liberation Sans", sans-serif' >0</text>
<text x="234.2" y="127.4" font-size="8.3" text-anchor="middle" font-weight="normal" fill="#222" font-family='"Liberation Sans", sans-serif' >0</text>
<text x="243.1" y="127.4" font-size="8.3" text-anchor="middle" font-weight="normal" fill="#222" font-family='"Liberation Sans", sans-serif' >0</text>
<text x="252" y="127.4" font-size="8.3" text-anchor="middle" font-weight="normal" fill="#222" font-family='"Liberation Sans", sans-serif' >1</text>
<text x="260.9" y="127.4" font-size="8.3" text-anchor="middle" font-weight="normal" fill="#222" font-family='"Liberation Sans", sans-serif' >1</text>
<text x="269.8" y="127.4" font-size="8.3" text-anchor="middle" font-weight="normal" fill="#222" font-family='"Liberation Sans", sans-serif' >0</text>
<circle cx="281.5" cy="47.2" r="3.9" fill="#fae2b4"/><circle cx="281.5" cy="47.2" r="1.8" fill="#f0b56c"/>
<circle cx="281.5" cy="55.8" r="3.9" fill="#fae2b4"/><circle cx="281.5" cy="55.8" r="1.8" fill="#f0b56c"/>
<circle cx="281.5" cy="64.4" r="3.9" fill="#fae2b4"/><circle cx="281.5" cy="64.4" r="1.8" fill="#f0b56c"/>
<circle cx="281.5" cy="72.9" r="3.9" fill="#fae2b4"/><circle cx="281.5" cy="72.9" r="1.8" fill="#f0b56c"/>
<circle cx="281.5" cy="81.5" r="3.9" fill="#fae2b4"/><circle cx="281.5" cy="81.5" r="1.8" fill="#f0b56c"/>
<circle cx="281.5" cy="90.1" r="3.9" fill="#fae2b4"/><circle cx="281.5" cy="90.1" r="1.8" fill="#f0b56c"/>
<circle cx="281.5" cy="98.7" r="3.9" fill="#fae2b4"/><circle cx="281.5" cy="98.7" r="1.8" fill="#f0b56c"/>
<circle cx="281.5" cy="107.3" r="3.9" fill="#fae2b4"/><circle cx="281.5" cy="107.3" r="1.8" fill="#f0b56c"/>
<circle cx="281.5" cy="115.8" r="3.9" fill="#fae2b4"/><circle cx="281.5" cy="115.8" r="1.8" fill="#f0b56c"/>
<circle cx="281.5" cy="124.4" r="3.9" fill="#fae2b4"/><circle cx="281.5" cy="124.4" r="1.8" fill="#f0b56c"/>
<path d="M289.5 45.8 A7 7.1 0 0 1 289.5 60" fill="none" stroke="#555" stroke-width="0.7" stroke-dasharray="2.6 1.7"/>
<path d="M289.5 45.8 A13 11.4 0 0 1 289.5 68.5" fill="none" stroke="#555" stroke-width="0.7" stroke-dasharray="2.6 1.7"/>
<path d="M289.5 45.8 A18 15.6 0 0 1 289.5 77" fill="none" stroke="#555" stroke-width="0.7" stroke-dasharray="2.6 1.7"/>
<path d="M289.5 45.8 A22 19.9 0 0 1 289.5 85.5" fill="none" stroke="#555" stroke-width="0.7" stroke-dasharray="2.6 1.7"/>
<path d="M289.5 45.8 A24.7 24.1 0 0 1 289.5 94" fill="none" stroke="#555" stroke-width="0.7" stroke-dasharray="2.6 1.7"/>
<path d="M289.5 45.8 A26.5 28.4 0 0 1 289.5 102.5" fill="none" stroke="#555" stroke-width="0.7" stroke-dasharray="2.6 1.7"/>
<path d="M289.5 45.8 A28 32.6 0 0 1 289.5 111" fill="none" stroke="#555" stroke-width="0.7" stroke-dasharray="2.6 1.7"/>
<path d="M289.5 45.8 A28.8 36.9 0 0 1 289.5 119.5" fill="none" stroke="#555" stroke-width="0.7" stroke-dasharray="2.6 1.7"/>
<path d="M289.5 45.8 A29.3 41.1 0 0 1 289.5 128" fill="none" stroke="#555" stroke-width="0.7" stroke-dasharray="2.6 1.7"/>
<path d="M289.5 45.8 A29.3 41.1 0 0 1 317.75 76" fill="none" stroke="#555" stroke-width="0.7"/>
<rect x="337" y="86.2" width="63.2" height="1.2" fill="#111"/>
<path d="M340 64.2V82.8M396.2 64.2V82.8" stroke="#111" stroke-width="1.1"/>
<text x="350.7" y="79.6" font-size="20" font-style="italic" font-weight="bold" text-anchor="middle" fill="#111" font-family='"Liberation Serif", "DejaVu Serif", serif'>A</text>
<text x="367.5" y="79.6" font-size="17" text-anchor="middle" fill="#111" font-family='"DejaVu Math TeX Gyre", "DejaVu Serif", serif'>∩</text>
<text x="386.5" y="79.6" font-size="20" font-style="italic" font-weight="bold" text-anchor="middle" fill="#111" font-family='"Liberation Serif", "DejaVu Serif", serif'>B</text>
<path d="M340 91.4V109.8M396.2 91.4V109.8" stroke="#111" stroke-width="1.1"/>
<text x="350.7" y="104.7" font-size="20" font-style="italic" font-weight="bold" text-anchor="middle" fill="#111" font-family='"Liberation Serif", "DejaVu Serif", serif'>A</text>
<text x="367.5" y="104.7" font-size="17" text-anchor="middle" fill="#111" font-family='"DejaVu Math TeX Gyre", "DejaVu Serif", serif'>∪</text>
<text x="386.5" y="104.7" font-size="20" font-style="italic" font-weight="bold" text-anchor="middle" fill="#111" font-family='"Liberation Serif", "DejaVu Serif", serif'>B</text>
<path d="M423 95.5h0M419.6 85.3h0M424.1 78.5h0M428.4 84h0M422.8 84h0M415.5 91.5h0M413.4 86.2h0M430.3 88.5h0M416.4 77.9h0M418 80.1h0M426.6 80.6h0M430.5 78.7h0M418.2 91.6h0M420.2 93.9h0M428.3 77.9h0M413.8 88.7h0M411.1 84.3h0M420.3 78h0M415.4 93.9h0M426.1 93.3h0M413.4 79.2h0M420.6 73.7h0M430.8 82.7h0M423.8 88h0M419.1 89.2h0M421.3 75.9h0M421.3 90.1h0M428.4 91.5h0M424.5 74h0M415.1 81h0M431 90.9h0M416.9 86.2h0M426.2 85.2h0M427.1 87.7h0M418.3 75h0M423 91.7h0M422.3 80.6h0M421.8 86.4h0M431.1 86h0M415.3 75.9h0M412.8 91.3h0M429 93.9h0M417.1 83.2h0M429.2 81h0M417.9 94.3h0M425.8 76.1h0M415.1 84.6h0M432.6 88.5h0M411.3 88.3h0M425 82.4h0M416.8 89.1h0M413.4 82.6h0M425.1 90.7h0M419.9 82.3h0M411.4 81.1h0M432.1 80.7h0M433.2 83.4h0M420.6 96.6h0M427.2 95.3h0M428.1 75.4h0" stroke="#f3e0a0" stroke-width="1.85" stroke-linecap="round" fill="none" opacity="1"/>
<g fill="none" stroke="#333" stroke-width="0.7"><ellipse cx="427.6" cy="86.6" rx="3" ry="22.4"/><path d="M427.6 64.2 L446 80 Q448 81.7 450 81.7 H457 Q459 81.7 459 83.5 V88.7 Q459 90.5 457 90.5 H450 Q448 90.5 446 92.5 L427.6 109"/></g>
<text x="445.2" y="71.5" font-size="17.5" fill="#111" font-family='"DejaVu Math TeX Gyre", "DejaVu Serif", serif'>μ</text>
<path d="M465.2 86.2H481" stroke="#555" stroke-width="1.1"/><path d="M486 86.2l-6.5 -2.6v5.2z" fill="#555"/>
<path d="M581 86.2H596.2" stroke="#555" stroke-width="1.1"/><path d="M601.2 86.2l-6.5 -2.6v5.2z" fill="#555"/>
<text x="533" y="82.5" font-size="13.4" text-anchor="middle" font-weight="bold" fill="#222" font-family='"Liberation Sans", sans-serif' textLength="62" lengthAdjust="spacingAndGlyphs">Adjust for</text>
<text x="532.7" y="97" font-size="13.4" text-anchor="middle" font-weight="bold" fill="#222" font-family='"Liberation Sans", sans-serif' textLength="49.5" lengthAdjust="spacingAndGlyphs">sparsity</text>
<text x="646.5" y="82.5" font-size="13.4" text-anchor="middle" font-weight="bold" fill="#222" font-family='"Liberation Sans", sans-serif' textLength="62" lengthAdjust="spacingAndGlyphs">epiCHAOS</text>
<text x="646.4" y="97" font-size="13.4" text-anchor="middle" font-weight="bold" fill="#222" font-family='"Liberation Sans", sans-serif' textLength="33.6" lengthAdjust="spacingAndGlyphs">score</text>
<path d="M37.5 188V317.9" stroke="#333" stroke-width="1.1" fill="none"/>
<path d="M34.8 311.4H37.5" stroke="#3c3c3c" stroke-width="0.85"/>
<text x="32.6" y="314.5" font-size="8.2" text-anchor="end" font-weight="normal" fill="#4d4d4d" font-family='"Liberation Sans", sans-serif' >0.00</text>
<path d="M34.8 281.9H37.5" stroke="#3c3c3c" stroke-width="0.85"/>
<text x="32.6" y="285" font-size="8.2" text-anchor="end" font-weight="normal" fill="#4d4d4d" font-family='"Liberation Sans", sans-serif' >0.25</text>
<path d="M34.8 252.4H37.5" stroke="#3c3c3c" stroke-width="0.85"/>
<text x="32.6" y="255.5" font-size="8.2" text-anchor="end" font-weight="normal" fill="#4d4d4d" font-family='"Liberation Sans", sans-serif' >0.50</text>
<path d="M34.8 222.9H37.5" stroke="#3c3c3c" stroke-width="0.85"/>
<text x="32.6" y="226" font-size="8.2" text-anchor="end" font-weight="normal" fill="#4d4d4d" font-family='"Liberation Sans", sans-serif' >0.75</text>
<path d="M34.8 193.4H37.5" stroke="#3c3c3c" stroke-width="0.85"/>
<text x="32.6" y="196.5" font-size="8.2" text-anchor="end" font-weight="normal" fill="#4d4d4d" font-family='"Liberation Sans", sans-serif' >1.00</text>
<text transform="translate(13.6,253.8) rotate(-90)" font-size="9.3" text-anchor="middle" fill="#333" textLength="44.2" lengthAdjust="spacingAndGlyphs" font-family='"Liberation Sans", sans-serif'>epiCHAOS</text>
<path d="M37.05 317.4H203.6" stroke="#333" stroke-width="1.1"/>
<path d="M44.7 317.4V320.2" stroke="#666" stroke-width="0.7"/>
<path d="M81.8 317.4V320.2" stroke="#666" stroke-width="0.7"/>
<path d="M118.9 317.4V320.2" stroke="#666" stroke-width="0.7"/>
<path d="M156 317.4V320.2" stroke="#666" stroke-width="0.7"/>
<path d="M193.1 317.4V320.2" stroke="#666" stroke-width="0.7"/>
<path d="M44.8 300.2h0M46.1 303.4h0M47.4 304.7h0M48.8 311.4h0M50.9 301.2h0M52.3 302h0M54.1 298.6h0M55.5 297.5h0M56.8 292.7h0M58.2 300.7h0M59.5 284.6h0M61.4 288.6h0M62.7 280.6h0M64.3 280.6h0M65.7 276.6h0M67 261.3h0M68.4 277.1h0M69.7 268.5h0M71 275.2h0M72.4 273.9h0M74.3 273.1h0M75.6 265.3h0M77.5 269.9h0M78.8 265.8h0M80.4 261.8h0M81.8 261.8h0M83.1 265.8h0M85 251.9h0M86.3 257.8h0M87.7 261.3h0M89.5 246.5h0M90.9 237.7h0M92.5 241.7h0M93.8 243h0M95.7 242.2h0M97.1 240.4h0M98.4 239h0M99.7 245.2h0M101.1 242.5h0M102.4 242.2h0M104.3 236.3h0M105.6 233.6h0M107 236.3h0M108.6 232.3h0M109.9 227.7h0M111.3 231h0M113.2 225.1h0M114.5 225.6h0M115.8 228.3h0M117.2 224.3h0M119.1 221h0M120.4 221.6h0M122 214.9h0M123.3 219.7h0M124.7 217.6h0M126 220.2h0M127.9 218.4h0M129.2 218.9h0M131.1 210.8h0M132.5 210h0M134.1 211.7h0M135.4 209h0M136.8 214.9h0M138.6 208.2h0M140 206.3h0M141.3 208.2h0M142.7 207.4h0M144.5 205.5h0M145.9 204.7h0M147.2 205.5h0M148.8 206.8h0M150.2 201.5h0M151.5 203.6h0M152.9 202.8h0M154.2 204.7h0M155.5 200.9h0M157.4 199.3h0M158.8 200.1h0M160.1 198.2h0M161.4 199.3h0M162.8 200.1h0M164.1 196.6h0M166 197.4h0M167.3 195.6h0M168.7 194.8h0M170 198.2h0M171.4 196.1h0M173 197.4h0M174.3 194.8h0M175.7 193.4h0M177 193.9h0M178.9 196.6h0M180.2 197.4h0M181.6 194.8h0M183.4 193.4h0M184.8 193.9h0M186.4 192.9h0M187.7 193.9h0M189.1 193.4h0M190.4 193.9h0M192.3 193.9h0M193.6 193.4h0" stroke="#2b2b2b" stroke-width="2.3" stroke-linecap="round" fill="none" opacity="0.9"/>
<text x="44.8" y="197.3" font-size="6.6" text-anchor="start" font-weight="bold" fill="#222" font-family='"Liberation Sans", sans-serif' textLength="69.5" lengthAdjust="spacingAndGlyphs">R = 0.99, p &lt; 2.2.e-16</text>
<text x="38.8" y="333.3" font-size="9.5" text-anchor="start" font-weight="normal" fill="#333" font-family='"Liberation Sans", sans-serif' textLength="61.6" lengthAdjust="spacingAndGlyphs">heterogeneity</text>
<path d="M37.5 340.6 L203.6 326.3 V340.6Z" fill="#c9c9c9"/>
<path d="M268.5 188.5V318.8" stroke="#333" stroke-width="1.1" fill="none"/>
<path d="M265.2 312.7H268.5" stroke="#3c3c3c" stroke-width="0.85"/>
<text x="262.2" y="315.8" font-size="8.2" text-anchor="end" font-weight="normal" fill="#4d4d4d" font-family='"Liberation Sans", sans-serif' >0.00</text>
<path d="M265.2 283.3H268.5" stroke="#3c3c3c" stroke-width="0.85"/>
<text x="262.2" y="286.4" font-size="8.2" text-anchor="end" font-weight="normal" fill="#4d4d4d" font-family='"Liberation Sans", sans-serif' >0.25</text>
<path d="M265.2 254H268.5" stroke="#3c3c3c" stroke-width="0.85"/>
<text x="262.2" y="257.1" font-size="8.2" text-anchor="end" font-weight="normal" fill="#4d4d4d" font-family='"Liberation Sans", sans-serif' >0.50</text>
<path d="M265.2 224.6H268.5" stroke="#3c3c3c" stroke-width="0.85"/>
<text x="262.2" y="227.7" font-size="8.2" text-anchor="end" font-weight="normal" fill="#4d4d4d" font-family='"Liberation Sans", sans-serif' >0.75</text>
<path d="M265.2 195.3H268.5" stroke="#3c3c3c" stroke-width="0.85"/>
<text x="262.2" y="198.4" font-size="8.2" text-anchor="end" font-weight="normal" fill="#4d4d4d" font-family='"Liberation Sans", sans-serif' >1.00</text>
<text transform="translate(242.4,255.8) rotate(-90)" font-size="9.3" text-anchor="middle" fill="#333" textLength="44.2" lengthAdjust="spacingAndGlyphs" font-family='"Liberation Sans", sans-serif'>epiCHAOS</text>
<path d="M268.05 318.2H457.8" stroke="#333" stroke-width="1.1"/>
<path d="M287.2 318.2V321.2" stroke="#666" stroke-width="0.7"/>
<path d="M318.6 318.2V321.2" stroke="#666" stroke-width="0.7"/>
<path d="M350.2 318.2V321.2" stroke="#666" stroke-width="0.7"/>
<path d="M381.8 318.2V321.2" stroke="#666" stroke-width="0.7"/>
<path d="M413.3 318.2V321.2" stroke="#666" stroke-width="0.7"/>
<path d="M444.8 318.2V321.2" stroke="#666" stroke-width="0.7"/>
<rect x="279.9" y="311.8" width="14.3" height="1" fill="#333"/>
<rect x="311.1" y="281.3" width="7.3" height="31.5" fill="#333"/>
<rect x="319.1" y="289.2" width="7.3" height="23.6" fill="#6b90ad"/>
<rect x="342.9" y="255.9" width="7.3" height="56.9" fill="#333"/>
<rect x="350.9" y="268.8" width="7.3" height="44" fill="#6b90ad"/>
<rect x="374.5" y="234.9" width="7.3" height="77.9" fill="#333"/>
<rect x="382.5" y="249.5" width="7.3" height="63.3" fill="#6b90ad"/>
<rect x="406" y="216.8" width="7.3" height="96" fill="#333"/>
<rect x="414" y="233.1" width="7.3" height="79.7" fill="#6b90ad"/>
<rect x="437.2" y="201.3" width="7.3" height="111.5" fill="#333"/>
<rect x="445.2" y="194" width="7.3" height="118.8" fill="#6b90ad"/>
<circle cx="286.4" cy="203.3" r="6.3" fill="#333" stroke="#111" stroke-width="0.8"/>
<circle cx="286.4" cy="218.9" r="6.3" fill="#6b90ad" stroke="#5580a3" stroke-width="0.8"/>
<text x="298" y="206.6" font-size="10" text-anchor="middle" fill="#444" font-family='"DejaVu Sans", sans-serif'>↑</text>
<text x="302.6" y="206.3" font-size="8.8" text-anchor="start" font-weight="normal" fill="#444" font-family='"Liberation Sans", sans-serif' textLength="26.2" lengthAdjust="spacingAndGlyphs">counts</text>
<text x="298" y="222.2" font-size="10" text-anchor="middle" fill="#444" font-family='"DejaVu Sans", sans-serif'>↓</text>
<text x="302.6" y="221.9" font-size="8.8" text-anchor="start" font-weight="normal" fill="#444" font-family='"Liberation Sans", sans-serif' textLength="26.2" lengthAdjust="spacingAndGlyphs">counts</text>
<text x="269.6" y="332" font-size="9.5" text-anchor="start" font-weight="normal" fill="#333" font-family='"Liberation Sans", sans-serif' textLength="61.5" lengthAdjust="spacingAndGlyphs">heterogeneity</text>
<path d="M269 341.7 L462.7 327.8 V341.7Z" fill="#c9c9c9"/>
<path d="M508.5 188.8V318.8" stroke="#333" stroke-width="1.1" fill="none"/>
<path d="M505.2 312.4H508.5" stroke="#3c3c3c" stroke-width="0.85"/>
<text x="502.1" y="315.5" font-size="8.2" text-anchor="end" font-weight="normal" fill="#4d4d4d" font-family='"Liberation Sans", sans-serif' >0.00</text>
<path d="M505.2 283H508.5" stroke="#3c3c3c" stroke-width="0.85"/>
<text x="502.1" y="286.1" font-size="8.2" text-anchor="end" font-weight="normal" fill="#4d4d4d" font-family='"Liberation Sans", sans-serif' >0.25</text>
<path d="M505.2 253.6H508.5" stroke="#3c3c3c" stroke-width="0.85"/>
<text x="502.1" y="256.7" font-size="8.2" text-anchor="end" font-weight="normal" fill="#4d4d4d" font-family='"Liberation Sans", sans-serif' >0.50</text>
<path d="M505.2 224.1H508.5" stroke="#3c3c3c" stroke-width="0.85"/>
<text x="502.1" y="227.2" font-size="8.2" text-anchor="end" font-weight="normal" fill="#4d4d4d" font-family='"Liberation Sans", sans-serif' >0.75</text>
<path d="M505.2 194.7H508.5" stroke="#3c3c3c" stroke-width="0.85"/>
<text x="502.1" y="197.8" font-size="8.2" text-anchor="end" font-weight="normal" fill="#4d4d4d" font-family='"Liberation Sans", sans-serif' >1.00</text>
<text transform="translate(482.5,255.3) rotate(-90)" font-size="9.3" text-anchor="middle" fill="#333" textLength="44.8" lengthAdjust="spacingAndGlyphs" font-family='"Liberation Sans", sans-serif'>epiCHAOS</text>
<path d="M508.05 318.2H682.5" stroke="#333" stroke-width="1.1"/>
<path d="M525.2 232.3V263.2" stroke="#222" stroke-width="0.9"/>
<rect x="514.4" y="232.3" width="21.6" height="16" fill="#6b90ad" stroke="#333" stroke-width="0.8"/>
<path d="M514.4 245.3H536" stroke="#2e2e2e" stroke-width="1.7"/>
<circle cx="525.2" cy="201.3" r="2.45" fill="#000"/>
<circle cx="525.2" cy="232.3" r="2.45" fill="#000"/>
<circle cx="525.2" cy="245.3" r="2.45" fill="#000"/>
<circle cx="525.2" cy="248.3" r="2.45" fill="#000"/>
<circle cx="525.2" cy="263.2" r="2.45" fill="#000"/>
<path d="M525.2 318.2V321.4" stroke="#3c3c3c" stroke-width="0.85"/>
<text x="525.2" y="328.3" font-size="7.3" text-anchor="middle" font-weight="normal" fill="#4d4d4d" font-family='"Liberation Sans", sans-serif' >50000</text>
<path d="M553.1 227V275.1" stroke="#222" stroke-width="0.9"/>
<rect x="542.3" y="236.4" width="21.6" height="23" fill="#6b90ad" stroke="#333" stroke-width="0.8"/>
<path d="M542.3 245.8H563.9" stroke="#2e2e2e" stroke-width="1.7"/>
<circle cx="553.1" cy="227" r="2.45" fill="#000"/>
<circle cx="553.1" cy="236.7" r="2.45" fill="#000"/>
<circle cx="553.1" cy="245.8" r="2.45" fill="#000"/>
<circle cx="553.1" cy="259.4" r="2.45" fill="#000"/>
<circle cx="553.1" cy="275.1" r="2.45" fill="#000"/>
<path d="M553.1 318.2V321.4" stroke="#3c3c3c" stroke-width="0.85"/>
<text x="553.1" y="328.3" font-size="7.3" text-anchor="middle" font-weight="normal" fill="#4d4d4d" font-family='"Liberation Sans", sans-serif' >60000</text>
<path d="M581.3 232.3V254.1" stroke="#222" stroke-width="0.9"/>
<rect x="570.5" y="232.3" width="21.6" height="12.4" fill="#6b90ad" stroke="#333" stroke-width="0.8"/>
<path d="M570.5 237H592.1" stroke="#2e2e2e" stroke-width="1.7"/>
<circle cx="581.3" cy="205.4" r="2.45" fill="#000"/>
<circle cx="581.3" cy="232.3" r="2.45" fill="#000"/>
<circle cx="581.3" cy="237" r="2.45" fill="#000"/>
<circle cx="581.3" cy="244.4" r="2.45" fill="#000"/>
<circle cx="581.3" cy="254.1" r="2.45" fill="#000"/>
<path d="M581.3 318.2V321.4" stroke="#3c3c3c" stroke-width="0.85"/>
<text x="581.3" y="328.3" font-size="7.3" text-anchor="middle" font-weight="normal" fill="#4d4d4d" font-family='"Liberation Sans", sans-serif' >70000</text>
<path d="M609.5 207.9V254.1" stroke="#222" stroke-width="0.9"/>
<rect x="598.7" y="212.9" width="21.6" height="39.5" fill="#6b90ad" stroke="#333" stroke-width="0.8"/>
<path d="M598.7 239.2H620.3" stroke="#2e2e2e" stroke-width="1.7"/>
<circle cx="609.5" cy="207.9" r="2.45" fill="#000"/>
<circle cx="609.5" cy="212.9" r="2.45" fill="#000"/>
<circle cx="609.5" cy="239.2" r="2.45" fill="#000"/>
<circle cx="609.5" cy="252.5" r="2.45" fill="#000"/>
<circle cx="609.5" cy="254.1" r="2.45" fill="#000"/>
<path d="M609.5 318.2V321.4" stroke="#3c3c3c" stroke-width="0.85"/>
<text x="609.5" y="328.3" font-size="7.3" text-anchor="middle" font-weight="normal" fill="#4d4d4d" font-family='"Liberation Sans", sans-serif' >80000</text>
<path d="M637.4 221.5V312.5" stroke="#222" stroke-width="0.9"/>
<rect x="626.6" y="226.2" width="21.6" height="57.2" fill="#6b90ad" stroke="#333" stroke-width="0.8"/>
<path d="M626.6 243.3H648.2" stroke="#2e2e2e" stroke-width="1.7"/>
<circle cx="637.4" cy="221.5" r="2.45" fill="#000"/>
<circle cx="637.4" cy="226.2" r="2.45" fill="#000"/>
<circle cx="637.4" cy="243.3" r="2.45" fill="#000"/>
<circle cx="637.4" cy="283.2" r="2.45" fill="#000"/>
<circle cx="637.4" cy="312.5" r="2.45" fill="#000"/>
<path d="M637.4 318.2V321.4" stroke="#3c3c3c" stroke-width="0.85"/>
<text x="637.4" y="328.3" font-size="7.3" text-anchor="middle" font-weight="normal" fill="#4d4d4d" font-family='"Liberation Sans", sans-serif' >90000</text>
<path d="M665.7 194.7V238.9" stroke="#222" stroke-width="0.9"/>
<rect x="654.9" y="220.7" width="21.6" height="18.3" fill="#6b90ad" stroke="#333" stroke-width="0.8"/>
<path d="M654.9 232.8H676.5" stroke="#2e2e2e" stroke-width="1.7"/>
<circle cx="665.7" cy="194.7" r="2.45" fill="#000"/>
<circle cx="665.7" cy="220.9" r="2.45" fill="#000"/>
<circle cx="665.7" cy="232.8" r="2.45" fill="#000"/>
<circle cx="665.7" cy="238.9" r="2.45" fill="#000"/>
<circle cx="665.7" cy="271.5" r="2.45" fill="#000"/>
<path d="M665.7 318.2V321.4" stroke="#3c3c3c" stroke-width="0.85"/>
<text x="665.7" y="328.3" font-size="7.3" text-anchor="middle" font-weight="normal" fill="#4d4d4d" font-family='"Liberation Sans", sans-serif' >100000</text>
<text x="598.8" y="342" font-size="9.3" text-anchor="middle" font-weight="normal" fill="#333" font-family='"Liberation Sans", sans-serif' textLength="118.7" lengthAdjust="spacingAndGlyphs">simulated sequencing depth</text>
<path d="M39.1 413V590.6" stroke="#333" stroke-width="1.1" fill="none"/>
<path d="M35.9 577H39.1" stroke="#3c3c3c" stroke-width="0.85"/>
<text x="33.4" y="580" font-size="8.5" text-anchor="end" font-weight="normal" fill="#4d4d4d" font-family='"Liberation Sans", sans-serif' >-10</text>
<path d="M35.9 539.6H39.1" stroke="#3c3c3c" stroke-width="0.85"/>
<text x="33.4" y="542.6" font-size="8.5" text-anchor="end" font-weight="normal" fill="#4d4d4d" font-family='"Liberation Sans", sans-serif' >-5</text>
<path d="M35.9 502.3H39.1" stroke="#3c3c3c" stroke-width="0.85"/>
<text x="33.4" y="505.4" font-size="8.5" text-anchor="end" font-weight="normal" fill="#4d4d4d" font-family='"Liberation Sans", sans-serif' >0</text>
<path d="M35.9 464.9H39.1" stroke="#3c3c3c" stroke-width="0.85"/>
<text x="33.4" y="467.9" font-size="8.5" text-anchor="end" font-weight="normal" fill="#4d4d4d" font-family='"Liberation Sans", sans-serif' >5</text>
<path d="M35.9 427.5H39.1" stroke="#3c3c3c" stroke-width="0.85"/>
<text x="33.4" y="430.6" font-size="8.5" text-anchor="end" font-weight="normal" fill="#4d4d4d" font-family='"Liberation Sans", sans-serif' >10</text>
<text transform="translate(18.7,504.2) rotate(-90)" font-size="9.6" text-anchor="middle" fill="#333" textLength="32.5" lengthAdjust="spacingAndGlyphs" font-family='"Liberation Sans", sans-serif'>UMAP2</text>
<path d="M38.65 590.2H243.3" stroke="#333" stroke-width="1.1"/>
<path d="M50.1 590.2V593.2" stroke="#3c3c3c" stroke-width="0.85"/>
<text x="50.1" y="601.6" font-size="8.5" text-anchor="middle" font-weight="normal" fill="#4d4d4d" font-family='"Liberation Sans", sans-serif' >-10</text>
<path d="M91.4 590.2V593.2" stroke="#3c3c3c" stroke-width="0.85"/>
<text x="91.4" y="601.6" font-size="8.5" text-anchor="middle" font-weight="normal" fill="#4d4d4d" font-family='"Liberation Sans", sans-serif' >-5</text>
<path d="M132.8 590.2V593.2" stroke="#3c3c3c" stroke-width="0.85"/>
<text x="132.8" y="601.6" font-size="8.5" text-anchor="middle" font-weight="normal" fill="#4d4d4d" font-family='"Liberation Sans", sans-serif' >0</text>
<path d="M173.7 590.2V593.2" stroke="#3c3c3c" stroke-width="0.85"/>
<text x="173.7" y="601.6" font-size="8.5" text-anchor="middle" font-weight="normal" fill="#4d4d4d" font-family='"Liberation Sans", sans-serif' >5</text>
<path d="M215 590.2V593.2" stroke="#3c3c3c" stroke-width="0.85"/>
<text x="215" y="601.6" font-size="8.5" text-anchor="middle" font-weight="normal" fill="#4d4d4d" font-family='"Liberation Sans", sans-serif' >10</text>
<text x="137" y="610.7" font-size="9" text-anchor="middle" font-weight="normal" fill="#333" font-family='"Liberation Sans", sans-serif' textLength="31.3" lengthAdjust="spacingAndGlyphs">UMAP1</text>
<path d="M50.3 429.7h0M56.7 429.3h0M53.1 433.4h0M55 426.8h0M56 436.9h0M53.8 433.4h0M54.1 430.2h0M57.1 435h0M56.4 435.2h0M49.8 428.3h0M57.4 429.1h0M55.3 431.7h0M51.2 429.1h0M52.1 430.4h0M52.8 432.7h0M49.8 433.8h0M49.9 430.5h0M61 431.3h0M48.4 430.4h0M57.8 434.2h0M55.1 432.7h0M57.7 428.9h0M52.9 434.9h0M54.6 427.9h0M59 433.7h0M51.7 433.3h0M52.3 434.2h0M55 428.7h0M51.3 429h0M48.7 432.5h0M50.1 431.1h0M58.8 432.1h0M54 436h0M53 427.1h0M49.5 429.8h0M50.8 434.5h0M55.2 430.4h0M59.8 433.8h0M54.9 437.3h0M55.8 434.7h0M55.4 433.2h0M54.5 437.4h0M52.3 430.2h0M60.1 434.7h0M50.9 436.6h0M53.1 427.5h0M53.7 437.3h0M52.5 433.5h0M53.4 437.1h0M52 431.4h0M55.8 435.1h0M57.1 430.3h0M56.7 429.9h0M56.4 435.7h0M54.8 435.6h0M54.9 429h0M59.4 432.7h0M53.3 436.8h0M60.5 429.7h0M58.3 429.8h0M57.2 429.3h0M49.1 433.9h0M51.3 429.7h0M56.8 434.5h0M55.1 430.4h0M55.9 433.6h0M57.1 435.5h0M54.4 431.7h0M54.1 436.5h0M50.8 435.7h0M51.6 434.1h0M54.3 435.8h0M54.1 430.8h0M59.4 433.5h0M53.9 429.9h0M49.8 433.2h0M56.9 434.6h0M53.3 431.3h0M53.1 430.1h0M55.5 432.9h0M55.8 436.5h0M51.9 428.8h0M55.4 429.9h0M60.9 433.2h0M57.2 433h0M57.2 434.7h0M53.4 433h0M56.5 433h0M52.5 430.2h0M57.1 432.2h0M60.1 429.7h0M57.9 427.3h0M49.1 433.4h0M56.3 430.7h0M50.2 429h0M57 436.2h0M52.6 431.8h0M49 431.3h0M56.7 435h0M60.3 434.5h0M50.4 436.3h0M55.1 429.6h0M56.5 431.1h0M56.9 435.7h0M55.9 434.4h0M54.5 436.9h0M51.7 427.4h0M48.3 431.1h0M48.6 433.7h0M50.1 430.4h0M57.2 432.5h0M58.2 434.4h0M53.3 433.9h0M53.4 429.8h0M60 434.7h0M60.1 433.5h0M57.4 433.5h0M57.7 431.7h0M54.4 432h0M53.7 434.5h0M52.4 437h0M51.4 427.6h0M55.2 434.2h0M56.2 435.9h0M55.1 427.1h0M57.2 436.6h0M56.1 428.3h0M54.5 428.3h0M53 433h0M60.9 433.6h0M77.8 435.1h0M60.3 430.3h0M72.7 429h0M75.9 424.2h0M72.3 425.3h0M63.9 433.5h0M64.3 427.7h0M77.7 427.8h0M72.5 430.7h0M61.3 432.4h0M68.8 428.8h0M68.8 436h0M68.1 424.3h0M70.3 437.3h0M78.8 426.7h0M77 423h0M79.9 428.1h0M75.6 435h0M71.3 424.8h0M68.8 435.8h0M82.8 430.3h0M59.4 426.9h0M65.3 424.2h0M58 429.4h0M76 425.9h0M69.1 435.1h0M76.8 423.4h0M60.2 433.1h0M72.8 422.6h0M76.1 436.1h0M74.8 432.3h0M70.8 436.6h0M72.6 427.9h0M73 430.3h0M66.4 436.3h0M70.4 437.3h0M77.8 432.2h0M75.8 428.8h0M74.6 433.5h0M79.2 426.4h0M57.8 433h0M61.2 431.2h0M70.9 423.8h0M67.5 429.2h0M60.5 428.3h0M65.3 435.9h0M57.9 429.5h0M64.4 427.9h0M58.8 431.3h0M69.9 436.8h0M66.3 424.6h0M82.4 429.4h0M68.5 425h0M62.4 432.7h0M69.8 435.9h0M75.9 432.1h0M81.1 423.8h0M74.5 423.5h0M78 422h0M80.3 424.7h0M80.1 422.4h0M80.1 423.2h0M76.1 424.5h0M80.7 424.8h0M77 423.6h0M78.4 422.2h0M74.6 423.3h0M80.9 423h0M60.9 430.6h0M66.6 428.6h0M64.3 429.2h0M59.6 430.5h0M63.5 427h0M60.3 427.3h0M62.2 427.4h0M59 429h0M58 426.2h0M66 430h0M58 428h0M60.8 430.6h0M65.4 425.9h0M58.5 430.5h0M63.9 429h0M65.7 426.6h0" stroke="#d5b5d9" stroke-width="2.1" stroke-linecap="round" fill="none" opacity="1"/>
<path d="M99 480.3L100.6 477.3L102.5 480.3L105.1 482.3L107.8 483.6L111.3 483.8L114.8 484.7L118.3 486.5L121.8 489.1L125.3 489.5L128.3 490.4L129.2 493.9L127 497L123.5 498.7L120 497.4L116.5 496.1L113 495.2L110 493.2L107.3 491.3L105.6 488.2L103.8 485.6L101.6 484.3L99.9 483Z" fill="#8dbe8a" stroke="#8dbe8a" stroke-width="1.2" stroke-linejoin="round"/>
<path d="M114.9 484h0M127.4 496.8h0M126.6 496.7h0M127.9 496.5h0M103.2 485.7h0M101 483.4h0M118.9 486.3h0M101.5 484.5h0M106.2 488.5h0M123.2 489.2h0M98.7 478.7h0M127 496.8h0M128.8 491.8h0M101 483.4h0M106.8 489.6h0M108.5 492.5h0M101.3 478.1h0M102.9 485h0M100.3 483h0M110.6 484.6h0M104.9 482h0M101.6 484h0M127.6 497.1h0M100.9 478.5h0M109.9 483.2h0M106 483.3h0M105.2 487.4h0M116.8 495.5h0M100.7 484.7h0M101.9 477.9h0M129.2 493.4h0M112.6 495.1h0M115.2 485.7h0M123.8 489h0M110.4 492.6h0M128 495.8h0M119.1 498.1h0M115.3 495.8h0M125.7 499.1h0M127.7 489.1h0M115.7 485.9h0M119.3 488.3h0M128.4 491.3h0M99.5 482.4h0M120.4 487.4h0M125.2 490.1h0M123.7 497.5h0M102.2 478.3h0M104.7 487.1h0M105.5 490.1h0M128.7 491.5h0M100.8 477.5h0M99.7 479h0M122.9 489.4h0M128.5 495h0M118.3 485.4h0M120.2 498.4h0M103.2 481.4h0M127.3 495.9h0M103.7 481h0" stroke="#8dbe8a" stroke-width="1.7" stroke-linecap="round" fill="none" opacity="1"/>
<path d="M93.8 477.3h0M93.3 480.3h0M95.5 486.9h0M98.1 491h0M101.2 488.2h0M94.2 479h0M99.4 485.6h0M102.5 486.9h0M104.7 489.1h0M100.8 486.5h0M106.9 491.7h0M98.6 483.8h0" stroke="#8dbe8a" stroke-width="2" stroke-linecap="round" fill="none" opacity="1"/>
<path d="M98.5 448h0" stroke="#a5b8de" stroke-width="2" stroke-linecap="round" fill="none" opacity="1"/>
<path d="M158 460.1L160.9 458.8L164.1 460.1L165.7 463L169.7 462.5L174.5 461.7L180.1 462.2L184.2 464.1L186.9 467.3L185.8 469.7L182.6 472.1L178.5 474.5L174.5 476.6L174.5 480.1L172.9 484.2L170.5 488.2L166.5 491.1L162.5 491.7L158.5 489L156.1 484.2L156.9 480.1L159.3 477.7L162.5 476.6L162.2 473.7L161.7 470.5L160.1 467.3L158.9 464.1Z" fill="#a5b8de" stroke="#a5b8de" stroke-width="1.2" stroke-linejoin="round"/>
<path d="M161.6 470.1h0M162.9 460h0M170 462.5h0M159.2 478.2h0M162.5 476.6h0M172.6 483.5h0M161.1 469.3h0M159 462.7h0M156.9 485.7h0M170.2 462.7h0M179.3 461.4h0M162.1 490.3h0M177.9 475.3h0M163.1 459.5h0M186.1 468h0M159.3 462.8h0M178.1 475.2h0M169.3 489.2h0M158 487.6h0M182 463.4h0M181.9 472.6h0M170.3 462.8h0M185.5 465.1h0M162.3 473.4h0M161.1 469.4h0M160.7 459.5h0M158.9 460.5h0M159.9 490h0M158.9 463.9h0M176 462.1h0M184 471.7h0M156 480.6h0M156.5 484.8h0M185.1 470.6h0M158.8 463.3h0M162.2 474.3h0M164.6 460.2h0M159.3 462.5h0M176.4 475h0M161.8 471.7h0M159.4 477.5h0M175.5 475.9h0M160.8 470.1h0M185.8 469h0M158.7 477.9h0M158.4 460.4h0M181.3 463.2h0M161 478h0M172.1 462.6h0M158.9 464.3h0M163.1 475.3h0M161.9 471h0M158.1 488.7h0M163.2 476.7h0M178.1 462.3h0M169.4 462.7h0M171.2 486.4h0M173.6 483h0M177.5 461.7h0M159.2 464.5h0M161.9 459.6h0M159.9 459.6h0M160.2 469.1h0M159.9 488.7h0M170.1 487.9h0M171.4 488.4h0M158 459.8h0M159.2 459.1h0M169 462.4h0M174.4 462.4h0" stroke="#a5b8de" stroke-width="1.7" stroke-linecap="round" fill="none" opacity="1"/>
<path d="M155.6 463.8h0M159.3 469.7h0M157.5 461.5h0" stroke="#a5b8de" stroke-width="1.8" stroke-linecap="round" fill="none" opacity="1"/>
<path d="M164.5 475.6 L173.5 474.4" stroke="#fff" stroke-width="0.8" stroke-linecap="round" opacity=".85"/>
<path d="M222.4 474.5L224.3 478.5L227.5 485L231.5 491.4L234.7 497L235.1 500.2L232.3 504.2L227.5 508.3L222.7 512.3L218.7 515.2L215.5 513.9L214.2 510.7L215.2 505.8L213.1 501L213.1 496.2L214.7 491.4L216.3 486.6L218.7 481.8L220.8 476.9Z" fill="#ebd67e" stroke="#ebd67e" stroke-width="1.2" stroke-linejoin="round"/>
<path d="M223.5 478h0M226.3 480.7h0M222.8 474.8h0M219 482.1h0M234.3 498.8h0M227 484.9h0M213.7 500.3h0M214.2 503.9h0M217.4 483.4h0M213.8 500h0M216.6 485.4h0M214.5 505.5h0M218.2 515.6h0M214.6 512h0M216.5 514.8h0M214.7 512.4h0M216.4 489.1h0M214.8 492.9h0M229.4 487.3h0M227 509h0M213.3 502.4h0M214.2 493.2h0M215.2 505h0M217.8 483.3h0M233.1 493h0M215.4 513.6h0M214.7 513.1h0M214.6 491.4h0M231.9 503.8h0M215.7 512.6h0M223.8 475.9h0M233.1 502.1h0M219.1 480.3h0M225.9 509.3h0M221.5 475.3h0M225.9 481.3h0M234.1 494.7h0M232.5 494.9h0M218 483.1h0M235.5 497.7h0M229.5 487.4h0M224.1 510.6h0M218.8 514.6h0M219.4 479.3h0M233.4 503.6h0M234.2 501.2h0M223.9 478.4h0M216.1 485.6h0M218.1 514.6h0M214.7 513.8h0M215.8 491.6h0M226.5 508.9h0M216.8 513.6h0M226.6 485.1h0M233.2 495.5h0M217.4 514.4h0M214.6 508.8h0M213.6 498.8h0M229.7 488.9h0M212.8 495.5h0M231.3 490.4h0M217.6 514h0M234.2 497h0M233.9 502.8h0M234.4 500.5h0M227.4 507.8h0M212.6 496.3h0M221.9 512.4h0M231 490h0M219 482.2h0M219.8 515.1h0M215.6 490.3h0M213.4 495.9h0M234.7 500.4h0M232.4 504.1h0M226 481.7h0M212.5 497.4h0M213 497.6h0M216.3 486.3h0M226.3 482.7h0M224.9 509.5h0M225.5 481.3h0M230.1 505.9h0M230.3 505.3h0M230.8 489h0M216.5 485.5h0M223.2 475.3h0M212.8 501.3h0M224 511.4h0M234.6 499.6h0" stroke="#ebd67e" stroke-width="1.7" stroke-linecap="round" fill="none" opacity="1"/>
<path d="M222.4 473.2h0M214 488h0M212.5 498h0M213.5 506h0" stroke="#ebd67e" stroke-width="1.8" stroke-linecap="round" fill="none" opacity="1"/>
<path d="M60.5 546.6L65 545.8L70.7 546.6L75.3 548.3L79.3 550.6L82.7 554.6L83.8 559.1L83 564.8L82.3 570.5L84.4 575.1L86.1 579.6L84.4 581.9L78.7 583L73 581.9L67.3 580.2L61.6 577.4L55.9 572.8L52 567.1L50.2 560.3L51.4 554.6L54.2 550L57.1 547.8Z" fill="#fb8a6a" stroke="#fb8a6a" stroke-width="1.2" stroke-linejoin="round"/>
<path d="M82.8 568.7h0M79.8 582.9h0M83.5 556.7h0M82.3 555.3h0M75.3 581.8h0M76.2 548.3h0M76.2 581.2h0M83.4 582h0M85.3 580.6h0M84.4 574.2h0M75.3 548.6h0M54.2 569.8h0M79.6 551.3h0M86.1 579.6h0M50.6 559.1h0M82.8 566.2h0M82.4 567.5h0M57.1 572.3h0M51.4 564.9h0M59 546.9h0M83.7 580.9h0M81.7 553.6h0M52.5 552h0M59.7 576.3h0M70.5 546h0M83.4 567h0M82.5 583.8h0M62.8 546.3h0M58.8 573.8h0M82.5 567.1h0M58.9 575.2h0M74.1 548.4h0M50.3 558h0M52.8 550.9h0M85.8 580.8h0M81.5 553.1h0M82.6 564.4h0M75.2 581.4h0M80.5 582.3h0M68.2 545.9h0M66.9 579.9h0M84.5 581.6h0M51.7 565.5h0M72.7 580.6h0M56.8 572.9h0M59.6 547.1h0M51.8 565.7h0M75.3 548.5h0M78.5 550.3h0M66.3 579.9h0M68.5 580.2h0M70.7 581.4h0M53.3 550.9h0M73.9 548.1h0M75.2 549h0M73.2 547.6h0M85.1 581h0M53.7 550.7h0M83.4 564.6h0M83.6 574.3h0M59.5 547.2h0M61.8 546.7h0M72.5 547.4h0M60 575.1h0M51.7 563.3h0M84.1 573.4h0M83.9 573.9h0M66.4 545.2h0M82.5 554.7h0M55.1 549.2h0M73.3 547.5h0M85.7 576.5h0M57 549.4h0M62.3 545.8h0M50.2 561h0M73.2 582.3h0M77.7 549.3h0M57.8 547.5h0M53.4 551.2h0M49.9 557.3h0M75.8 548.9h0M83 564.8h0M52.2 566.6h0M50.9 559.5h0M61.9 546.9h0M82.9 570.4h0M84.6 581.6h0M53.3 551.8h0M54.2 570.6h0M58.1 548.2h0M59.5 547.9h0M77.4 549.2h0M69.6 581h0M82.5 571.5h0M54.3 571.8h0M74.6 547.7h0M50.9 562.5h0M83.5 574h0M83.4 555.2h0M85.8 577.8h0M74.7 548.2h0M56 549h0M50.8 554.6h0M70.6 581.2h0M62 576.9h0M73.3 547.7h0M51.4 556.3h0M75.2 582.6h0M83.1 557.8h0M78.5 549.8h0" stroke="#fb8a6a" stroke-width="1.7" stroke-linecap="round" fill="none" opacity="1"/>
<path d="M74.1 545.8h0M83.8 551.5h0" stroke="#fb8a6a" stroke-width="1.8" stroke-linecap="round" fill="none" opacity="1"/>
<text x="67" y="454" font-size="8.4" text-anchor="middle" font-weight="normal" fill="#2a2a2a" font-family='"Liberation Sans", sans-serif' textLength="14.8" lengthAdjust="spacingAndGlyphs">HSC</text>
<text x="110.2" y="509.2" font-size="8.4" text-anchor="middle" font-weight="normal" fill="#2a2a2a" font-family='"Liberation Sans", sans-serif' textLength="16.1" lengthAdjust="spacingAndGlyphs">pDC</text>
<text x="178.1" y="453.8" font-size="8.4" text-anchor="middle" font-weight="normal" fill="#2a2a2a" font-family='"Liberation Sans", sans-serif' textLength="20.8" lengthAdjust="spacingAndGlyphs">B-cell</text>
<text x="216.7" y="533.2" font-size="8.4" text-anchor="middle" font-weight="normal" fill="#2a2a2a" font-family='"Liberation Sans", sans-serif' textLength="53.8" lengthAdjust="spacingAndGlyphs">CD8-CM T-cell</text>
<text x="75.4" y="537.4" font-size="8.4" text-anchor="middle" font-weight="normal" fill="#2a2a2a" font-family='"Liberation Sans", sans-serif' textLength="37.5" lengthAdjust="spacingAndGlyphs">Monocyte</text>
<path d="M332.5 413V589.6" stroke="#333" stroke-width="1.1" fill="none"/>
<path d="M329.3 581.1H332.5" stroke="#3c3c3c" stroke-width="0.85"/>
<text x="326.2" y="584.1" font-size="8.5" text-anchor="end" font-weight="normal" fill="#4d4d4d" font-family='"Liberation Sans", sans-serif' >0.00</text>
<path d="M329.3 541.5H332.5" stroke="#3c3c3c" stroke-width="0.85"/>
<text x="326.2" y="544.5" font-size="8.5" text-anchor="end" font-weight="normal" fill="#4d4d4d" font-family='"Liberation Sans", sans-serif' >0.25</text>
<path d="M329.3 501.9H332.5" stroke="#3c3c3c" stroke-width="0.85"/>
<text x="326.2" y="505" font-size="8.5" text-anchor="end" font-weight="normal" fill="#4d4d4d" font-family='"Liberation Sans", sans-serif' >0.50</text>
<path d="M329.3 462.3H332.5" stroke="#3c3c3c" stroke-width="0.85"/>
<text x="326.2" y="465.4" font-size="8.5" text-anchor="end" font-weight="normal" fill="#4d4d4d" font-family='"Liberation Sans", sans-serif' >0.75</text>
<path d="M329.3 422.7H332.5" stroke="#3c3c3c" stroke-width="0.85"/>
<text x="326.2" y="425.8" font-size="8.5" text-anchor="end" font-weight="normal" fill="#4d4d4d" font-family='"Liberation Sans", sans-serif' >1.00</text>
<text transform="translate(303.9,496.5) rotate(-90)" font-size="9.3" text-anchor="middle" fill="#333" textLength="43.9" lengthAdjust="spacingAndGlyphs" font-family='"Liberation Sans", sans-serif'>epiCHAOS</text>
<path d="M332.05 589.2H568.7" stroke="#333" stroke-width="1.1"/>
<path d="M359.5 589.2V592.3" stroke="#3c3c3c" stroke-width="0.85"/>
<text x="359.5" y="600.8" font-size="8.5" text-anchor="middle" font-weight="normal" fill="#4d4d4d" font-family='"Liberation Sans", sans-serif' >1</text>
<path d="M405 589.2V592.3" stroke="#3c3c3c" stroke-width="0.85"/>
<text x="405" y="600.8" font-size="8.5" text-anchor="middle" font-weight="normal" fill="#4d4d4d" font-family='"Liberation Sans", sans-serif' >2</text>
<path d="M450.6 589.2V592.3" stroke="#3c3c3c" stroke-width="0.85"/>
<text x="450.6" y="600.8" font-size="8.5" text-anchor="middle" font-weight="normal" fill="#4d4d4d" font-family='"Liberation Sans", sans-serif' >3</text>
<path d="M496.1 589.2V592.3" stroke="#3c3c3c" stroke-width="0.85"/>
<text x="496.1" y="600.8" font-size="8.5" text-anchor="middle" font-weight="normal" fill="#4d4d4d" font-family='"Liberation Sans", sans-serif' >4</text>
<path d="M542 589.2V592.3" stroke="#3c3c3c" stroke-width="0.85"/>
<text x="542" y="600.8" font-size="8.5" text-anchor="middle" font-weight="normal" fill="#4d4d4d" font-family='"Liberation Sans", sans-serif' >5</text>
<text x="442.8" y="610.2" font-size="9.3" text-anchor="middle" font-weight="normal" fill="#333" font-family='"Liberation Sans", sans-serif' textLength="88.4" lengthAdjust="spacingAndGlyphs">Number of celltypes</text>
<path d="M359.6 490.8V581.2" stroke="#333" stroke-width="0.8"/>
<rect x="342.4" y="520.4" width="34.5" height="53.9" fill="#6b90ad" stroke="#333" stroke-width="0.9"/>
<path d="M342.4 535.2H376.9" stroke="#2e2e2e" stroke-width="1.9"/>
<path d="M405.2 451V479.8" stroke="#333" stroke-width="0.8"/>
<rect x="387.9" y="458.6" width="34.6" height="15.5" fill="#6b90ad" stroke="#333" stroke-width="0.9"/>
<path d="M387.9 468.8H422.5" stroke="#2e2e2e" stroke-width="1.9"/>
<path d="M450.8 432V448" stroke="#333" stroke-width="0.8"/>
<rect x="433.5" y="439.6" width="34.5" height="8.4" fill="#6b90ad" stroke="#333" stroke-width="0.9"/>
<path d="M433.5 444.5H468" stroke="#2e2e2e" stroke-width="1.9"/>
<path d="M496.2 422.5V439.2" stroke="#333" stroke-width="0.8"/>
<rect x="479" y="427.1" width="34.5" height="7.6" fill="#6b90ad" stroke="#333" stroke-width="0.9"/>
<path d="M479 428.6H513.5" stroke="#2e2e2e" stroke-width="1.9"/>
<path d="M524.9 425.9H559.1" stroke="#2e2e2e" stroke-width="1.9"/>
<path d="M346.6 490.5h0M371.6 520.4h0M348.8 535.6h0M346.6 574.3h0M373.9 581.2h0M391 450.2h0M395.9 455.9h0M391.3 457.4h0M389 462h0M404.3 465.4h0M393.6 472.6h0M387.6 476h0M412.6 474.9h0M422.8 472.6h0M404.3 479.8h0M452.4 432h0M462.7 432h0M468.4 438.1h0M450.6 442.6h0M433.1 444.5h0M446 446.4h0M442.6 448.3h0M460.8 448h0M437.6 460.1h0M481.3 422.5h0M482 427.1h0M490 428.2h0M495.3 433.9h0M488.9 439.2h0M544.7 425.9h0" stroke="#000" stroke-width="2.5" stroke-linecap="round" fill="none" opacity="1"/>
<circle cx="450.9" cy="460.1" r="2" fill="#2b2b2b"/>
<defs>
<radialGradient id="cy" cx=".42" cy=".42" r=".62"><stop offset="0" stop-color="#fdf6e6"/><stop offset=".5" stop-color="#f9e8c4"/><stop offset="1" stop-color="#f0d7a3"/></radialGradient>
<radialGradient id="nr" cx=".45" cy=".4" r=".6"><stop offset="0" stop-color="#e58e94"/><stop offset=".6" stop-color="#e0838a"/><stop offset="1" stop-color="#de7c84"/></radialGradient>
<radialGradient id="ng" cx=".45" cy=".4" r=".6"><stop offset="0" stop-color="#93d0a8"/><stop offset=".6" stop-color="#84c99b"/><stop offset="1" stop-color="#78c090"/></radialGradient>
<radialGradient id="nt" cx=".45" cy=".4" r=".6"><stop offset="0" stop-color="#8ccbd3"/><stop offset=".6" stop-color="#7bc1ca"/><stop offset="1" stop-color="#6fb8c2"/></radialGradient>
</defs>
<circle cx="353.8" cy="397.9" r="6.3" fill="url(#cy)" stroke="#ecd3a2" stroke-width="0.6"/>
<path d="M351.2 399.1 A3.2 3.2 0 1 1 356 399.9" fill="none" stroke="#fdf8ec" stroke-width="1.6" stroke-linecap="round" opacity=".8"/>
<circle cx="400" cy="395.6" r="6.3" fill="#f4bfc2" stroke="#e3979d" stroke-width="0.7"/><circle cx="400" cy="395.6" r="4.4" fill="url(#nr)" stroke="#f9dfe0" stroke-width="0.6"/>
<circle cx="402.2" cy="405.6" r="6.3" fill="url(#cy)" stroke="#ecd3a2" stroke-width="0.6"/>
<path d="M399.6 406.8 A3.2 3.2 0 1 1 404.4 407.6" fill="none" stroke="#fdf8ec" stroke-width="1.6" stroke-linecap="round" opacity=".8"/>
<path d="M452.5 399L448.3 398.7L448.8 401.6L446.4 399.6L444.7 403.3L444.2 399.5L441.3 400.5L443 397.7L438.7 396.6L442.9 395.5L441.6 393L444.4 394L444.8 390.1L446.5 393.4L449 391.2L448.3 394.6L452.4 394.2L448.9 396.6Z" fill="#a19dd3" stroke="#a19dd3" stroke-width="0.4" stroke-linejoin="round"/><circle cx="445.9" cy="396.6" r="3.5" fill="#8c86c6"/><circle cx="445.4" cy="396.1" r="1.8" fill="#7d76bb" opacity=".7"/>
<circle cx="452.5" cy="405" r="6.3" fill="url(#cy)" stroke="#ecd3a2" stroke-width="0.6"/>
<path d="M449.9 406.2 A3.2 3.2 0 1 1 454.7 407" fill="none" stroke="#fdf8ec" stroke-width="1.6" stroke-linecap="round" opacity=".8"/>
<circle cx="458.3" cy="394.5" r="6.3" fill="#f4bfc2" stroke="#e3979d" stroke-width="0.7"/><circle cx="458.3" cy="394.5" r="4.4" fill="url(#nr)" stroke="#f9dfe0" stroke-width="0.6"/>
<path d="M509.1 392.6L504.9 392.3L505.4 395.2L503 393.2L501.3 396.9L500.8 393.1L497.9 394.1L499.6 391.3L495.3 390.2L499.5 389.1L498.2 386.6L501 387.6L501.4 383.7L503.1 387L505.6 384.8L504.9 388.2L509 387.8L505.5 390.2Z" fill="#a19dd3" stroke="#a19dd3" stroke-width="0.4" stroke-linejoin="round"/><circle cx="502.5" cy="390.2" r="3.5" fill="#8c86c6"/><circle cx="502" cy="389.7" r="1.8" fill="#7d76bb" opacity=".7"/>
<circle cx="492.3" cy="393.1" r="6.3" fill="url(#cy)" stroke="#ecd3a2" stroke-width="0.6"/>
<path d="M489.7 394.3 A3.2 3.2 0 1 1 494.5 395.1" fill="none" stroke="#fdf8ec" stroke-width="1.6" stroke-linecap="round" opacity=".8"/>
<circle cx="504.7" cy="399.3" r="6.3" fill="#b9e3c6" stroke="#6db688" stroke-width="0.7" stroke-dasharray="1.3 0.7"/><circle cx="504.7" cy="399.3" r="4.4" fill="url(#ng)" stroke="#d6efdd" stroke-width="0.6"/>
<circle cx="494.2" cy="405.4" r="6.3" fill="#f4bfc2" stroke="#e3979d" stroke-width="0.7"/><circle cx="494.2" cy="405.4" r="4.4" fill="url(#nr)" stroke="#f9dfe0" stroke-width="0.6"/>
<path d="M541.2 402.9L537 402.6L537.5 405.5L535.1 403.5L533.4 407.2L532.9 403.4L530 404.4L531.7 401.6L527.4 400.5L531.6 399.4L530.3 396.9L533.1 397.9L533.5 394L535.2 397.3L537.7 395.1L537 398.5L541.1 398.1L537.6 400.5Z" fill="#a19dd3" stroke="#a19dd3" stroke-width="0.4" stroke-linejoin="round"/><circle cx="534.6" cy="400.5" r="3.5" fill="#8c86c6"/><circle cx="534.1" cy="400" r="1.8" fill="#7d76bb" opacity=".7"/>
<circle cx="556.2" cy="403.8" r="6" fill="#b4dce2" stroke="#6db2bd" stroke-width="0.7" stroke-dasharray="1.3 0.7"/><circle cx="556.2" cy="403.8" r="4.2" fill="url(#nt)" stroke="#d3ebee" stroke-width="0.6"/>
<circle cx="545.3" cy="404.9" r="6.3" fill="url(#cy)" stroke="#ecd3a2" stroke-width="0.6"/>
<path d="M542.7 406.1 A3.2 3.2 0 1 1 547.5 406.9" fill="none" stroke="#fdf8ec" stroke-width="1.6" stroke-linecap="round" opacity=".8"/>
<circle cx="541.6" cy="393.2" r="6.3" fill="#b9e3c6" stroke="#6db688" stroke-width="0.7" stroke-dasharray="1.3 0.7"/><circle cx="541.6" cy="393.2" r="4.4" fill="url(#ng)" stroke="#d6efdd" stroke-width="0.6"/>
<circle cx="553.6" cy="392.8" r="6.3" fill="#f4bfc2" stroke="#e3979d" stroke-width="0.7"/><circle cx="553.6" cy="392.8" r="4.4" fill="url(#nr)" stroke="#f9dfe0" stroke-width="0.6"/>
</svg></body></html>
